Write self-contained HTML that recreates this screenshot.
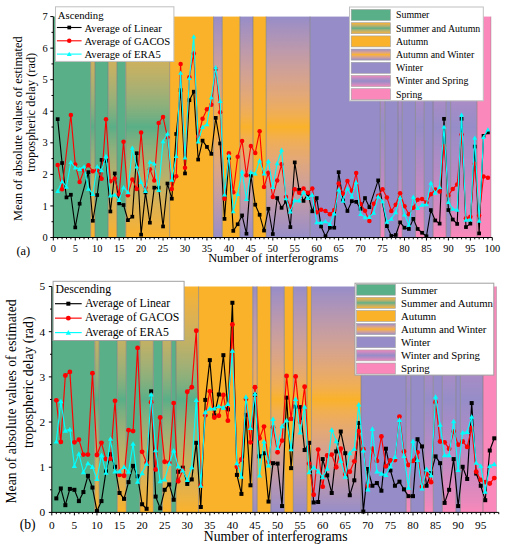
<!DOCTYPE html>
<html><head><meta charset="utf-8"><style>
html,body{margin:0;padding:0;background:#fff;}
svg{display:block;}
</style></head><body>
<svg width="507" height="550" viewBox="0 0 507 550">
<rect width="507" height="550" fill="#fff"/>
<defs><linearGradient id="tGA" gradientUnits="userSpaceOnUse" x1="0" y1="16.58" x2="0" y2="237.5"><stop offset="0.000" stop-color="#fab22a"/><stop offset="0.050" stop-color="#f0b23c"/><stop offset="0.100" stop-color="#e5b149"/><stop offset="0.150" stop-color="#dab154"/><stop offset="0.200" stop-color="#cdb15e"/><stop offset="0.250" stop-color="#c0b166"/><stop offset="0.300" stop-color="#b1b06e"/><stop offset="0.350" stop-color="#a1b075"/><stop offset="0.400" stop-color="#8eb07b"/><stop offset="0.450" stop-color="#77af81"/><stop offset="0.500" stop-color="#59af87"/><stop offset="0.550" stop-color="#77af81"/><stop offset="0.600" stop-color="#8eb07b"/><stop offset="0.650" stop-color="#a1b075"/><stop offset="0.700" stop-color="#b1b06e"/><stop offset="0.750" stop-color="#c0b166"/><stop offset="0.800" stop-color="#cdb15e"/><stop offset="0.850" stop-color="#dab154"/><stop offset="0.900" stop-color="#e5b149"/><stop offset="0.950" stop-color="#f0b23c"/><stop offset="1.000" stop-color="#fab22a"/></linearGradient><linearGradient id="LGA" x1="0" y1="0" x2="0" y2="1"><stop offset="0.000" stop-color="#fab22a"/><stop offset="0.050" stop-color="#f0b23c"/><stop offset="0.100" stop-color="#e5b149"/><stop offset="0.150" stop-color="#dab154"/><stop offset="0.200" stop-color="#cdb15e"/><stop offset="0.250" stop-color="#c0b166"/><stop offset="0.300" stop-color="#b1b06e"/><stop offset="0.350" stop-color="#a1b075"/><stop offset="0.400" stop-color="#8eb07b"/><stop offset="0.450" stop-color="#77af81"/><stop offset="0.500" stop-color="#59af87"/><stop offset="0.550" stop-color="#77af81"/><stop offset="0.600" stop-color="#8eb07b"/><stop offset="0.650" stop-color="#a1b075"/><stop offset="0.700" stop-color="#b1b06e"/><stop offset="0.750" stop-color="#c0b166"/><stop offset="0.800" stop-color="#cdb15e"/><stop offset="0.850" stop-color="#dab154"/><stop offset="0.900" stop-color="#e5b149"/><stop offset="0.950" stop-color="#f0b23c"/><stop offset="1.000" stop-color="#fab22a"/></linearGradient><linearGradient id="tAW" gradientUnits="userSpaceOnUse" x1="0" y1="16.58" x2="0" y2="237.5"><stop offset="0.000" stop-color="#968dc8"/><stop offset="0.050" stop-color="#a491bf"/><stop offset="0.100" stop-color="#b095b6"/><stop offset="0.150" stop-color="#bc99ac"/><stop offset="0.200" stop-color="#c69da1"/><stop offset="0.250" stop-color="#d0a195"/><stop offset="0.300" stop-color="#d9a488"/><stop offset="0.350" stop-color="#e2a878"/><stop offset="0.400" stop-color="#eaab66"/><stop offset="0.450" stop-color="#f2af4f"/><stop offset="0.500" stop-color="#fab22a"/><stop offset="0.550" stop-color="#f2af4f"/><stop offset="0.600" stop-color="#eaab66"/><stop offset="0.650" stop-color="#e2a878"/><stop offset="0.700" stop-color="#d9a488"/><stop offset="0.750" stop-color="#d0a195"/><stop offset="0.800" stop-color="#c69da1"/><stop offset="0.850" stop-color="#bc99ac"/><stop offset="0.900" stop-color="#b095b6"/><stop offset="0.950" stop-color="#a491bf"/><stop offset="1.000" stop-color="#968dc8"/></linearGradient><linearGradient id="LAW" x1="0" y1="0" x2="0" y2="1"><stop offset="0.000" stop-color="#968dc8"/><stop offset="0.050" stop-color="#a491bf"/><stop offset="0.100" stop-color="#b095b6"/><stop offset="0.150" stop-color="#bc99ac"/><stop offset="0.200" stop-color="#c69da1"/><stop offset="0.250" stop-color="#d0a195"/><stop offset="0.300" stop-color="#d9a488"/><stop offset="0.350" stop-color="#e2a878"/><stop offset="0.400" stop-color="#eaab66"/><stop offset="0.450" stop-color="#f2af4f"/><stop offset="0.500" stop-color="#fab22a"/><stop offset="0.550" stop-color="#f2af4f"/><stop offset="0.600" stop-color="#eaab66"/><stop offset="0.650" stop-color="#e2a878"/><stop offset="0.700" stop-color="#d9a488"/><stop offset="0.750" stop-color="#d0a195"/><stop offset="0.800" stop-color="#c69da1"/><stop offset="0.850" stop-color="#bc99ac"/><stop offset="0.900" stop-color="#b095b6"/><stop offset="0.950" stop-color="#a491bf"/><stop offset="1.000" stop-color="#968dc8"/></linearGradient><linearGradient id="tWS" gradientUnits="userSpaceOnUse" x1="0" y1="16.58" x2="0" y2="237.5"><stop offset="0.000" stop-color="#fb88ba"/><stop offset="0.050" stop-color="#e989bc"/><stop offset="0.100" stop-color="#dd89be"/><stop offset="0.150" stop-color="#d28ac0"/><stop offset="0.200" stop-color="#c88bc1"/><stop offset="0.250" stop-color="#bf8bc2"/><stop offset="0.300" stop-color="#b68bc4"/><stop offset="0.350" stop-color="#ae8cc5"/><stop offset="0.400" stop-color="#a68cc6"/><stop offset="0.450" stop-color="#9e8dc7"/><stop offset="0.500" stop-color="#968dc8"/><stop offset="0.550" stop-color="#9e8dc7"/><stop offset="0.600" stop-color="#a68cc6"/><stop offset="0.650" stop-color="#ae8cc5"/><stop offset="0.700" stop-color="#b68bc4"/><stop offset="0.750" stop-color="#bf8bc2"/><stop offset="0.800" stop-color="#c88bc1"/><stop offset="0.850" stop-color="#d28ac0"/><stop offset="0.900" stop-color="#dd89be"/><stop offset="0.950" stop-color="#e989bc"/><stop offset="1.000" stop-color="#fb88ba"/></linearGradient><linearGradient id="LWS" x1="0" y1="0" x2="0" y2="1"><stop offset="0.000" stop-color="#fb88ba"/><stop offset="0.050" stop-color="#e989bc"/><stop offset="0.100" stop-color="#dd89be"/><stop offset="0.150" stop-color="#d28ac0"/><stop offset="0.200" stop-color="#c88bc1"/><stop offset="0.250" stop-color="#bf8bc2"/><stop offset="0.300" stop-color="#b68bc4"/><stop offset="0.350" stop-color="#ae8cc5"/><stop offset="0.400" stop-color="#a68cc6"/><stop offset="0.450" stop-color="#9e8dc7"/><stop offset="0.500" stop-color="#968dc8"/><stop offset="0.550" stop-color="#9e8dc7"/><stop offset="0.600" stop-color="#a68cc6"/><stop offset="0.650" stop-color="#ae8cc5"/><stop offset="0.700" stop-color="#b68bc4"/><stop offset="0.750" stop-color="#bf8bc2"/><stop offset="0.800" stop-color="#c88bc1"/><stop offset="0.850" stop-color="#d28ac0"/><stop offset="0.900" stop-color="#dd89be"/><stop offset="0.950" stop-color="#e989bc"/><stop offset="1.000" stop-color="#fb88ba"/></linearGradient></defs><rect x="53.3" y="16.58" width="37.31" height="220.92" fill="#59AF87"/><rect x="90.61" y="16.58" width="4.39" height="220.92" fill="url(#tGA)"/><rect x="95" y="16.58" width="13.17" height="220.92" fill="#59AF87"/><rect x="108.17" y="16.58" width="8.78" height="220.92" fill="url(#tGA)"/><rect x="116.95" y="16.58" width="8.78" height="220.92" fill="#59AF87"/><rect x="125.73" y="16.58" width="43.9" height="220.92" fill="url(#tGA)"/><rect x="169.63" y="16.58" width="43.9" height="220.92" fill="#FAB22A"/><rect x="213.53" y="16.58" width="8.78" height="220.92" fill="url(#tAW)"/><rect x="222.31" y="16.58" width="17.56" height="220.92" fill="#FAB22A"/><rect x="239.88" y="16.58" width="13.17" height="220.92" fill="url(#tAW)"/><rect x="253.04" y="16.58" width="13.17" height="220.92" fill="#FAB22A"/><rect x="266.21" y="16.58" width="43.9" height="220.92" fill="url(#tAW)"/><rect x="310.12" y="16.58" width="70.24" height="220.92" fill="#968DC8"/><rect x="380.35" y="16.58" width="4.39" height="220.92" fill="url(#tWS)"/><rect x="384.75" y="16.58" width="13.17" height="220.92" fill="#968DC8"/><rect x="397.91" y="16.58" width="4.39" height="220.92" fill="url(#tWS)"/><rect x="402.31" y="16.58" width="13.17" height="220.92" fill="#968DC8"/><rect x="415.47" y="16.58" width="8.78" height="220.92" fill="url(#tWS)"/><rect x="424.25" y="16.58" width="8.78" height="220.92" fill="#968DC8"/><rect x="433.03" y="16.58" width="13.17" height="220.92" fill="url(#tWS)"/><rect x="446.2" y="16.58" width="4.39" height="220.92" fill="#968DC8"/><rect x="450.59" y="16.58" width="26.34" height="220.92" fill="url(#tWS)"/><rect x="476.94" y="16.58" width="14.05" height="220.92" fill="#FB88BA"/><line x1="90.61" y1="16.58" x2="90.61" y2="237.5" stroke="#7f7f7f" stroke-opacity="0.55" stroke-width="0.7"/><line x1="90.61" y1="16.58" x2="90.61" y2="237.5" stroke="#7f7f7f" stroke-opacity="0.55" stroke-width="0.7"/><line x1="95" y1="16.58" x2="95" y2="237.5" stroke="#7f7f7f" stroke-opacity="0.55" stroke-width="0.7"/><line x1="95" y1="16.58" x2="95" y2="237.5" stroke="#7f7f7f" stroke-opacity="0.55" stroke-width="0.7"/><line x1="108.17" y1="16.58" x2="108.17" y2="237.5" stroke="#7f7f7f" stroke-opacity="0.55" stroke-width="0.7"/><line x1="108.17" y1="16.58" x2="108.17" y2="237.5" stroke="#7f7f7f" stroke-opacity="0.55" stroke-width="0.7"/><line x1="116.95" y1="16.58" x2="116.95" y2="237.5" stroke="#7f7f7f" stroke-opacity="0.55" stroke-width="0.7"/><line x1="116.95" y1="16.58" x2="116.95" y2="237.5" stroke="#7f7f7f" stroke-opacity="0.55" stroke-width="0.7"/><line x1="125.73" y1="16.58" x2="125.73" y2="237.5" stroke="#7f7f7f" stroke-opacity="0.55" stroke-width="0.7"/><line x1="125.73" y1="16.58" x2="125.73" y2="237.5" stroke="#7f7f7f" stroke-opacity="0.55" stroke-width="0.7"/><line x1="169.63" y1="16.58" x2="169.63" y2="237.5" stroke="#7f7f7f" stroke-opacity="0.55" stroke-width="0.7"/><line x1="169.63" y1="16.58" x2="169.63" y2="237.5" stroke="#7f7f7f" stroke-opacity="0.55" stroke-width="0.7"/><line x1="213.53" y1="16.58" x2="213.53" y2="237.5" stroke="#7f7f7f" stroke-opacity="0.55" stroke-width="0.7"/><line x1="213.53" y1="16.58" x2="213.53" y2="237.5" stroke="#7f7f7f" stroke-opacity="0.55" stroke-width="0.7"/><line x1="222.31" y1="16.58" x2="222.31" y2="237.5" stroke="#7f7f7f" stroke-opacity="0.55" stroke-width="0.7"/><line x1="222.31" y1="16.58" x2="222.31" y2="237.5" stroke="#7f7f7f" stroke-opacity="0.55" stroke-width="0.7"/><line x1="239.88" y1="16.58" x2="239.88" y2="237.5" stroke="#7f7f7f" stroke-opacity="0.55" stroke-width="0.7"/><line x1="239.88" y1="16.58" x2="239.88" y2="237.5" stroke="#7f7f7f" stroke-opacity="0.55" stroke-width="0.7"/><line x1="253.04" y1="16.58" x2="253.04" y2="237.5" stroke="#7f7f7f" stroke-opacity="0.55" stroke-width="0.7"/><line x1="253.04" y1="16.58" x2="253.04" y2="237.5" stroke="#7f7f7f" stroke-opacity="0.55" stroke-width="0.7"/><line x1="266.21" y1="16.58" x2="266.21" y2="237.5" stroke="#7f7f7f" stroke-opacity="0.55" stroke-width="0.7"/><line x1="266.21" y1="16.58" x2="266.21" y2="237.5" stroke="#7f7f7f" stroke-opacity="0.55" stroke-width="0.7"/><line x1="310.12" y1="16.58" x2="310.12" y2="237.5" stroke="#7f7f7f" stroke-opacity="0.55" stroke-width="0.7"/><line x1="310.12" y1="16.58" x2="310.12" y2="237.5" stroke="#7f7f7f" stroke-opacity="0.55" stroke-width="0.7"/><line x1="380.35" y1="16.58" x2="380.35" y2="237.5" stroke="#7f7f7f" stroke-opacity="0.55" stroke-width="0.7"/><line x1="380.35" y1="16.58" x2="380.35" y2="237.5" stroke="#7f7f7f" stroke-opacity="0.55" stroke-width="0.7"/><line x1="384.75" y1="16.58" x2="384.75" y2="237.5" stroke="#7f7f7f" stroke-opacity="0.55" stroke-width="0.7"/><line x1="384.75" y1="16.58" x2="384.75" y2="237.5" stroke="#7f7f7f" stroke-opacity="0.55" stroke-width="0.7"/><line x1="397.91" y1="16.58" x2="397.91" y2="237.5" stroke="#7f7f7f" stroke-opacity="0.55" stroke-width="0.7"/><line x1="397.91" y1="16.58" x2="397.91" y2="237.5" stroke="#7f7f7f" stroke-opacity="0.55" stroke-width="0.7"/><line x1="402.31" y1="16.58" x2="402.31" y2="237.5" stroke="#7f7f7f" stroke-opacity="0.55" stroke-width="0.7"/><line x1="402.31" y1="16.58" x2="402.31" y2="237.5" stroke="#7f7f7f" stroke-opacity="0.55" stroke-width="0.7"/><line x1="415.47" y1="16.58" x2="415.47" y2="237.5" stroke="#7f7f7f" stroke-opacity="0.55" stroke-width="0.7"/><line x1="415.47" y1="16.58" x2="415.47" y2="237.5" stroke="#7f7f7f" stroke-opacity="0.55" stroke-width="0.7"/><line x1="424.25" y1="16.58" x2="424.25" y2="237.5" stroke="#7f7f7f" stroke-opacity="0.55" stroke-width="0.7"/><line x1="424.25" y1="16.58" x2="424.25" y2="237.5" stroke="#7f7f7f" stroke-opacity="0.55" stroke-width="0.7"/><line x1="433.03" y1="16.58" x2="433.03" y2="237.5" stroke="#7f7f7f" stroke-opacity="0.55" stroke-width="0.7"/><line x1="433.03" y1="16.58" x2="433.03" y2="237.5" stroke="#7f7f7f" stroke-opacity="0.55" stroke-width="0.7"/><line x1="446.2" y1="16.58" x2="446.2" y2="237.5" stroke="#7f7f7f" stroke-opacity="0.55" stroke-width="0.7"/><line x1="446.2" y1="16.58" x2="446.2" y2="237.5" stroke="#7f7f7f" stroke-opacity="0.55" stroke-width="0.7"/><line x1="450.59" y1="16.58" x2="450.59" y2="237.5" stroke="#7f7f7f" stroke-opacity="0.55" stroke-width="0.7"/><line x1="450.59" y1="16.58" x2="450.59" y2="237.5" stroke="#7f7f7f" stroke-opacity="0.55" stroke-width="0.7"/><line x1="476.94" y1="16.58" x2="476.94" y2="237.5" stroke="#7f7f7f" stroke-opacity="0.55" stroke-width="0.7"/><line x1="476.94" y1="16.58" x2="476.94" y2="237.5" stroke="#7f7f7f" stroke-opacity="0.55" stroke-width="0.7"/><line x1="490.98" y1="16.58" x2="490.98" y2="237.5" stroke="#7f7f7f" stroke-opacity="0.55" stroke-width="0.7"/><polyline points="57.69,119.15 62.08,163.02 66.47,197.42 70.86,194.74 75.25,227.4 79.64,203.73 88.42,172.17 92.81,220.77 97.2,195.05 101.59,159.86 105.98,160.81 110.37,211.46 114.76,173.43 119.15,203.42 123.54,204.99 127.93,220.14 132.32,216.67 136.71,153.23 141.1,234.66 145.49,192.37 149.88,222.67 154.27,187.64 158.66,187.64 163.05,226.45 167.44,183.53 171.83,198.68 176.22,133.98 180.61,90.11 185,173.43 189.39,100.21 193.78,91.69 198.17,159.55 202.56,140.61 206.95,146.92 211.34,153.87 215.73,117.89 220.12,143.45 224.51,218.88 228.9,157.97 233.29,230.87 237.68,224.24 242.07,215.41 246.46,233.71 250.85,175.64 255.24,204.68 259.63,214.78 264.02,230.56 268.41,208.78 272.8,234.03 277.19,198.05 281.58,207.83 285.97,201.52 290.36,227.09 294.75,162.39 299.14,189.84 303.53,200.89 307.92,193.63 312.31,211.31 316.7,198.05 321.09,226.45 325.48,236.24 329.87,227.72 334.26,227.72 338.65,172.17 343.04,200.26 347.43,210.99 351.82,201.21 356.21,201.84 360.6,208.78 364.99,198.05 369.38,207.2 378.16,180.38 386.94,226.14 391.33,235.92 395.72,234.98 400.11,222.35 404.5,227.72 408.89,228.98 413.28,218.88 417.67,228.98 422.06,232.77 426.45,236.24 430.84,210.04 435.23,220.46 439.62,223.61 444.01,118.83 448.4,210.04 452.79,219.51 457.18,223.93 461.57,118.83 465.96,227.09 470.35,223.61 474.74,146.61 479.13,233.4 483.52,135.88 487.91,132.41" fill="none" stroke="#000000" stroke-width="1.1" stroke-linejoin="round"/><g fill="#000000"><rect x="55.84" y="117.3" width="3.7" height="3.7"/><rect x="60.23" y="161.17" width="3.7" height="3.7"/><rect x="64.62" y="195.57" width="3.7" height="3.7"/><rect x="69.01" y="192.89" width="3.7" height="3.7"/><rect x="73.4" y="225.55" width="3.7" height="3.7"/><rect x="77.79" y="201.88" width="3.7" height="3.7"/><rect x="86.57" y="170.32" width="3.7" height="3.7"/><rect x="90.96" y="218.92" width="3.7" height="3.7"/><rect x="95.35" y="193.2" width="3.7" height="3.7"/><rect x="99.74" y="158.01" width="3.7" height="3.7"/><rect x="104.13" y="158.96" width="3.7" height="3.7"/><rect x="108.52" y="209.61" width="3.7" height="3.7"/><rect x="112.91" y="171.58" width="3.7" height="3.7"/><rect x="117.3" y="201.57" width="3.7" height="3.7"/><rect x="121.69" y="203.14" width="3.7" height="3.7"/><rect x="126.08" y="218.29" width="3.7" height="3.7"/><rect x="130.47" y="214.82" width="3.7" height="3.7"/><rect x="134.86" y="151.38" width="3.7" height="3.7"/><rect x="139.25" y="232.81" width="3.7" height="3.7"/><rect x="143.64" y="190.52" width="3.7" height="3.7"/><rect x="148.03" y="220.82" width="3.7" height="3.7"/><rect x="152.42" y="185.79" width="3.7" height="3.7"/><rect x="156.81" y="185.79" width="3.7" height="3.7"/><rect x="161.2" y="224.6" width="3.7" height="3.7"/><rect x="165.59" y="181.68" width="3.7" height="3.7"/><rect x="169.98" y="196.83" width="3.7" height="3.7"/><rect x="174.37" y="132.13" width="3.7" height="3.7"/><rect x="178.76" y="88.26" width="3.7" height="3.7"/><rect x="183.15" y="171.58" width="3.7" height="3.7"/><rect x="187.54" y="98.36" width="3.7" height="3.7"/><rect x="191.93" y="89.84" width="3.7" height="3.7"/><rect x="196.32" y="157.7" width="3.7" height="3.7"/><rect x="200.71" y="138.76" width="3.7" height="3.7"/><rect x="205.1" y="145.07" width="3.7" height="3.7"/><rect x="209.49" y="152.02" width="3.7" height="3.7"/><rect x="213.88" y="116.04" width="3.7" height="3.7"/><rect x="218.27" y="141.6" width="3.7" height="3.7"/><rect x="222.66" y="217.03" width="3.7" height="3.7"/><rect x="227.05" y="156.12" width="3.7" height="3.7"/><rect x="231.44" y="229.02" width="3.7" height="3.7"/><rect x="235.83" y="222.39" width="3.7" height="3.7"/><rect x="240.22" y="213.56" width="3.7" height="3.7"/><rect x="244.61" y="231.86" width="3.7" height="3.7"/><rect x="249" y="173.79" width="3.7" height="3.7"/><rect x="253.39" y="202.83" width="3.7" height="3.7"/><rect x="257.78" y="212.93" width="3.7" height="3.7"/><rect x="262.17" y="228.71" width="3.7" height="3.7"/><rect x="266.56" y="206.93" width="3.7" height="3.7"/><rect x="270.95" y="232.18" width="3.7" height="3.7"/><rect x="275.34" y="196.2" width="3.7" height="3.7"/><rect x="279.73" y="205.98" width="3.7" height="3.7"/><rect x="284.12" y="199.67" width="3.7" height="3.7"/><rect x="288.51" y="225.24" width="3.7" height="3.7"/><rect x="292.9" y="160.54" width="3.7" height="3.7"/><rect x="297.29" y="187.99" width="3.7" height="3.7"/><rect x="301.68" y="199.04" width="3.7" height="3.7"/><rect x="306.07" y="191.78" width="3.7" height="3.7"/><rect x="310.46" y="209.46" width="3.7" height="3.7"/><rect x="314.85" y="196.2" width="3.7" height="3.7"/><rect x="319.24" y="224.6" width="3.7" height="3.7"/><rect x="323.63" y="234.39" width="3.7" height="3.7"/><rect x="328.02" y="225.87" width="3.7" height="3.7"/><rect x="332.41" y="225.87" width="3.7" height="3.7"/><rect x="336.8" y="170.32" width="3.7" height="3.7"/><rect x="341.19" y="198.41" width="3.7" height="3.7"/><rect x="345.58" y="209.14" width="3.7" height="3.7"/><rect x="349.97" y="199.36" width="3.7" height="3.7"/><rect x="354.36" y="199.99" width="3.7" height="3.7"/><rect x="358.75" y="206.93" width="3.7" height="3.7"/><rect x="363.14" y="196.2" width="3.7" height="3.7"/><rect x="367.53" y="205.35" width="3.7" height="3.7"/><rect x="376.31" y="178.53" width="3.7" height="3.7"/><rect x="385.09" y="224.29" width="3.7" height="3.7"/><rect x="389.48" y="234.07" width="3.7" height="3.7"/><rect x="393.87" y="233.13" width="3.7" height="3.7"/><rect x="398.26" y="220.5" width="3.7" height="3.7"/><rect x="402.65" y="225.87" width="3.7" height="3.7"/><rect x="407.04" y="227.13" width="3.7" height="3.7"/><rect x="411.43" y="217.03" width="3.7" height="3.7"/><rect x="415.82" y="227.13" width="3.7" height="3.7"/><rect x="420.21" y="230.92" width="3.7" height="3.7"/><rect x="424.6" y="234.39" width="3.7" height="3.7"/><rect x="428.99" y="208.19" width="3.7" height="3.7"/><rect x="433.38" y="218.61" width="3.7" height="3.7"/><rect x="437.77" y="221.76" width="3.7" height="3.7"/><rect x="442.16" y="116.98" width="3.7" height="3.7"/><rect x="446.55" y="208.19" width="3.7" height="3.7"/><rect x="450.94" y="217.66" width="3.7" height="3.7"/><rect x="455.33" y="222.08" width="3.7" height="3.7"/><rect x="459.72" y="116.98" width="3.7" height="3.7"/><rect x="464.11" y="225.24" width="3.7" height="3.7"/><rect x="468.5" y="221.76" width="3.7" height="3.7"/><rect x="472.89" y="144.76" width="3.7" height="3.7"/><rect x="477.28" y="231.55" width="3.7" height="3.7"/><rect x="481.67" y="134.03" width="3.7" height="3.7"/><rect x="486.06" y="130.56" width="3.7" height="3.7"/></g><polyline points="57.69,164.91 62.08,189.21 70.86,115.05 75.25,164.6 79.64,181.95 84.03,170.28 88.42,165.23 92.81,171.22 97.2,169.65 101.59,178.8 105.98,119.15 110.37,181.32 114.76,178.48 119.15,194.26 123.54,141.87 127.93,195.21 132.32,179.43 136.71,188.9 141.1,132.41 145.49,187.64 149.88,169.33 154.27,180.38 158.66,122.94 163.05,116.94 167.44,137.14 171.83,188.9 176.22,176.27 180.61,63.92 185,167.75 189.39,77.18 193.78,53.51 198.17,136.51 202.56,118.83 206.95,109.37 211.34,104.63 215.73,68.97 220.12,112.21 224.51,198.68 228.9,153.23 233.29,192.37 237.68,156.71 242.07,140.93 246.46,175.33 250.85,145.98 255.24,152.92 259.63,131.14 264.02,187 268.41,172.8 272.8,197.1 277.19,180.38 281.58,164.28 285.97,197.1 290.36,206.89 294.75,189.21 299.14,192.68 303.53,188.58 307.92,192.68 312.31,188.58 316.7,212.25 321.09,209.73 325.48,210.99 329.87,214.15 334.26,210.04 338.65,183.53 343.04,193.63 347.43,181.01 351.82,190.79 356.21,173.12 360.6,204.05 364.99,210.67 369.38,221.09 373.77,203.73 378.16,195.84 382.55,189.21 386.94,197.42 391.33,210.99 395.72,204.68 400.11,193.32 404.5,206.26 408.89,214.15 413.28,207.83 417.67,199.63 422.06,199 426.45,202.47 430.84,194.26 435.23,189.53 439.62,191.42 444.01,145.98 448.4,195.53 452.79,188.9 457.18,184.48 461.57,134.61 465.96,218.25 470.35,216.67 474.74,163.65 479.13,215.41 483.52,176.59 487.91,177.85" fill="none" stroke="#FF0000" stroke-width="1.1" stroke-linejoin="round"/><g fill="#FF0000"><circle cx="57.69" cy="164.91" r="2.25"/><circle cx="62.08" cy="189.21" r="2.25"/><circle cx="70.86" cy="115.05" r="2.25"/><circle cx="75.25" cy="164.6" r="2.25"/><circle cx="79.64" cy="181.95" r="2.25"/><circle cx="84.03" cy="170.28" r="2.25"/><circle cx="88.42" cy="165.23" r="2.25"/><circle cx="92.81" cy="171.22" r="2.25"/><circle cx="97.2" cy="169.65" r="2.25"/><circle cx="101.59" cy="178.8" r="2.25"/><circle cx="105.98" cy="119.15" r="2.25"/><circle cx="110.37" cy="181.32" r="2.25"/><circle cx="114.76" cy="178.48" r="2.25"/><circle cx="119.15" cy="194.26" r="2.25"/><circle cx="123.54" cy="141.87" r="2.25"/><circle cx="127.93" cy="195.21" r="2.25"/><circle cx="132.32" cy="179.43" r="2.25"/><circle cx="136.71" cy="188.9" r="2.25"/><circle cx="141.1" cy="132.41" r="2.25"/><circle cx="145.49" cy="187.64" r="2.25"/><circle cx="149.88" cy="169.33" r="2.25"/><circle cx="154.27" cy="180.38" r="2.25"/><circle cx="158.66" cy="122.94" r="2.25"/><circle cx="163.05" cy="116.94" r="2.25"/><circle cx="167.44" cy="137.14" r="2.25"/><circle cx="171.83" cy="188.9" r="2.25"/><circle cx="176.22" cy="176.27" r="2.25"/><circle cx="180.61" cy="63.92" r="2.25"/><circle cx="185" cy="167.75" r="2.25"/><circle cx="189.39" cy="77.18" r="2.25"/><circle cx="193.78" cy="53.51" r="2.25"/><circle cx="198.17" cy="136.51" r="2.25"/><circle cx="202.56" cy="118.83" r="2.25"/><circle cx="206.95" cy="109.37" r="2.25"/><circle cx="211.34" cy="104.63" r="2.25"/><circle cx="215.73" cy="68.97" r="2.25"/><circle cx="220.12" cy="112.21" r="2.25"/><circle cx="224.51" cy="198.68" r="2.25"/><circle cx="228.9" cy="153.23" r="2.25"/><circle cx="233.29" cy="192.37" r="2.25"/><circle cx="237.68" cy="156.71" r="2.25"/><circle cx="242.07" cy="140.93" r="2.25"/><circle cx="246.46" cy="175.33" r="2.25"/><circle cx="250.85" cy="145.98" r="2.25"/><circle cx="255.24" cy="152.92" r="2.25"/><circle cx="259.63" cy="131.14" r="2.25"/><circle cx="264.02" cy="187" r="2.25"/><circle cx="268.41" cy="172.8" r="2.25"/><circle cx="272.8" cy="197.1" r="2.25"/><circle cx="277.19" cy="180.38" r="2.25"/><circle cx="281.58" cy="164.28" r="2.25"/><circle cx="285.97" cy="197.1" r="2.25"/><circle cx="290.36" cy="206.89" r="2.25"/><circle cx="294.75" cy="189.21" r="2.25"/><circle cx="299.14" cy="192.68" r="2.25"/><circle cx="303.53" cy="188.58" r="2.25"/><circle cx="307.92" cy="192.68" r="2.25"/><circle cx="312.31" cy="188.58" r="2.25"/><circle cx="316.7" cy="212.25" r="2.25"/><circle cx="321.09" cy="209.73" r="2.25"/><circle cx="325.48" cy="210.99" r="2.25"/><circle cx="329.87" cy="214.15" r="2.25"/><circle cx="334.26" cy="210.04" r="2.25"/><circle cx="338.65" cy="183.53" r="2.25"/><circle cx="343.04" cy="193.63" r="2.25"/><circle cx="347.43" cy="181.01" r="2.25"/><circle cx="351.82" cy="190.79" r="2.25"/><circle cx="356.21" cy="173.12" r="2.25"/><circle cx="360.6" cy="204.05" r="2.25"/><circle cx="364.99" cy="210.67" r="2.25"/><circle cx="369.38" cy="221.09" r="2.25"/><circle cx="373.77" cy="203.73" r="2.25"/><circle cx="378.16" cy="195.84" r="2.25"/><circle cx="382.55" cy="189.21" r="2.25"/><circle cx="386.94" cy="197.42" r="2.25"/><circle cx="391.33" cy="210.99" r="2.25"/><circle cx="395.72" cy="204.68" r="2.25"/><circle cx="400.11" cy="193.32" r="2.25"/><circle cx="404.5" cy="206.26" r="2.25"/><circle cx="408.89" cy="214.15" r="2.25"/><circle cx="413.28" cy="207.83" r="2.25"/><circle cx="417.67" cy="199.63" r="2.25"/><circle cx="422.06" cy="199" r="2.25"/><circle cx="426.45" cy="202.47" r="2.25"/><circle cx="430.84" cy="194.26" r="2.25"/><circle cx="435.23" cy="189.53" r="2.25"/><circle cx="439.62" cy="191.42" r="2.25"/><circle cx="444.01" cy="145.98" r="2.25"/><circle cx="448.4" cy="195.53" r="2.25"/><circle cx="452.79" cy="188.9" r="2.25"/><circle cx="457.18" cy="184.48" r="2.25"/><circle cx="461.57" cy="134.61" r="2.25"/><circle cx="465.96" cy="218.25" r="2.25"/><circle cx="470.35" cy="216.67" r="2.25"/><circle cx="474.74" cy="163.65" r="2.25"/><circle cx="479.13" cy="215.41" r="2.25"/><circle cx="483.52" cy="176.59" r="2.25"/><circle cx="487.91" cy="177.85" r="2.25"/></g><polyline points="57.69,191.11 62.08,181.32 66.47,186.69 70.86,162.07 75.25,167.44 79.64,169.01 84.03,166.49 88.42,188.9 92.81,193.95 97.2,166.49 101.59,170.28 105.98,156.08 110.37,195.53 114.76,194.89 119.15,199.94 123.54,187.32 127.93,192.37 132.32,147.87 136.71,166.49 141.1,181.95 145.49,191.11 149.88,161.76 154.27,163.65 158.66,190.16 163.05,141.24 167.44,133.67 171.83,179.75 176.22,156.08 180.61,72.76 185,157.65 189.39,78.12 193.78,36.46 198.17,141.56 202.56,127.04 206.95,124.2 211.34,97.37 215.73,67.39 220.12,101.16 224.51,194.58 228.9,155.44 233.29,211.31 237.68,193.95 242.07,171.54 246.46,199 250.85,172.17 255.24,173.43 259.63,160.49 264.02,173.43 268.41,161.12 272.8,187 277.19,163.33 281.58,149.76 285.97,198.37 290.36,211.62 294.75,200.26 299.14,200.57 303.53,192.37 307.92,198.05 312.31,194.89 316.7,222.35 321.09,222.67 325.48,221.4 329.87,223.93 334.26,213.51 338.65,189.53 343.04,200.89 347.43,188.58 351.82,196.47 356.21,182.27 360.6,214.15 364.99,217.3 369.38,216.99 373.77,212.88 378.16,196.47 382.55,201.21 386.94,221.72 391.33,218.88 395.72,212.25 400.11,197.42 404.5,214.46 408.89,224.88 413.28,196.79 417.67,208.15 422.06,204.68 426.45,204.36 430.84,182.9 435.23,192.68 439.62,187 444.01,126.72 448.4,202.15 452.79,208.78 457.18,209.73 461.57,114.73 465.96,219.83 470.35,219.51 474.74,137.77 479.13,220.77 483.52,137.14 487.91,129.56" fill="none" stroke="#00FFFF" stroke-width="1.1" stroke-linejoin="round"/><g fill="#00FFFF"><path d="M57.69 188.81L60.14 193.06L55.24 193.06Z"/><path d="M62.08 179.02L64.53 183.28L59.63 183.28Z"/><path d="M66.47 184.39L68.92 188.64L64.02 188.64Z"/><path d="M70.86 159.77L73.31 164.03L68.41 164.03Z"/><path d="M75.25 165.14L77.7 169.39L72.8 169.39Z"/><path d="M79.64 166.71L82.09 170.97L77.19 170.97Z"/><path d="M84.03 164.19L86.48 168.45L81.58 168.45Z"/><path d="M88.42 186.6L90.87 190.85L85.97 190.85Z"/><path d="M92.81 191.65L95.26 195.9L90.36 195.9Z"/><path d="M97.2 164.19L99.65 168.45L94.75 168.45Z"/><path d="M101.59 167.98L104.04 172.23L99.14 172.23Z"/><path d="M105.98 153.78L108.43 158.03L103.53 158.03Z"/><path d="M110.37 193.23L112.82 197.48L107.92 197.48Z"/><path d="M114.76 192.59L117.21 196.85L112.31 196.85Z"/><path d="M119.15 197.64L121.6 201.9L116.7 201.9Z"/><path d="M123.54 185.02L125.99 189.27L121.09 189.27Z"/><path d="M127.93 190.07L130.38 194.32L125.48 194.32Z"/><path d="M132.32 145.57L134.77 149.82L129.87 149.82Z"/><path d="M136.71 164.19L139.16 168.45L134.26 168.45Z"/><path d="M141.1 179.65L143.55 183.91L138.65 183.91Z"/><path d="M145.49 188.81L147.94 193.06L143.04 193.06Z"/><path d="M149.88 159.46L152.33 163.71L147.43 163.71Z"/><path d="M154.27 161.35L156.72 165.6L151.82 165.6Z"/><path d="M158.66 187.86L161.11 192.12L156.21 192.12Z"/><path d="M163.05 138.94L165.5 143.2L160.6 143.2Z"/><path d="M167.44 131.37L169.89 135.62L164.99 135.62Z"/><path d="M171.83 177.45L174.28 181.7L169.38 181.7Z"/><path d="M176.22 153.78L178.67 158.03L173.77 158.03Z"/><path d="M180.61 70.46L183.06 74.71L178.16 74.71Z"/><path d="M185 155.35L187.45 159.61L182.55 159.61Z"/><path d="M189.39 75.82L191.84 80.08L186.94 80.08Z"/><path d="M193.78 34.16L196.23 38.42L191.33 38.42Z"/><path d="M198.17 139.26L200.62 143.51L195.72 143.51Z"/><path d="M202.56 124.74L205.01 129L200.11 129Z"/><path d="M206.95 121.9L209.4 126.15L204.5 126.15Z"/><path d="M211.34 95.07L213.79 99.33L208.89 99.33Z"/><path d="M215.73 65.09L218.18 69.35L213.28 69.35Z"/><path d="M220.12 98.86L222.57 103.12L217.67 103.12Z"/><path d="M224.51 192.28L226.96 196.53L222.06 196.53Z"/><path d="M228.9 153.14L231.35 157.4L226.45 157.4Z"/><path d="M233.29 209.01L235.74 213.26L230.84 213.26Z"/><path d="M237.68 191.65L240.13 195.9L235.23 195.9Z"/><path d="M242.07 169.24L244.52 173.49L239.62 173.49Z"/><path d="M246.46 196.7L248.91 200.95L244.01 200.95Z"/><path d="M250.85 169.87L253.3 174.13L248.4 174.13Z"/><path d="M255.24 171.13L257.69 175.39L252.79 175.39Z"/><path d="M259.63 158.19L262.08 162.45L257.18 162.45Z"/><path d="M264.02 171.13L266.47 175.39L261.57 175.39Z"/><path d="M268.41 158.82L270.86 163.08L265.96 163.08Z"/><path d="M272.8 184.7L275.25 188.96L270.35 188.96Z"/><path d="M277.19 161.03L279.64 165.29L274.74 165.29Z"/><path d="M281.58 147.46L284.03 151.72L279.13 151.72Z"/><path d="M285.97 196.07L288.42 200.32L283.52 200.32Z"/><path d="M290.36 209.32L292.81 213.58L287.91 213.58Z"/><path d="M294.75 197.96L297.2 202.21L292.3 202.21Z"/><path d="M299.14 198.27L301.59 202.53L296.69 202.53Z"/><path d="M303.53 190.07L305.98 194.32L301.08 194.32Z"/><path d="M307.92 195.75L310.37 200.01L305.47 200.01Z"/><path d="M312.31 192.59L314.76 196.85L309.86 196.85Z"/><path d="M316.7 220.05L319.15 224.31L314.25 224.31Z"/><path d="M321.09 220.37L323.54 224.62L318.64 224.62Z"/><path d="M325.48 219.1L327.93 223.36L323.03 223.36Z"/><path d="M329.87 221.63L332.32 225.88L327.42 225.88Z"/><path d="M334.26 211.21L336.71 215.47L331.81 215.47Z"/><path d="M338.65 187.23L341.1 191.48L336.2 191.48Z"/><path d="M343.04 198.59L345.49 202.85L340.59 202.85Z"/><path d="M347.43 186.28L349.88 190.54L344.98 190.54Z"/><path d="M351.82 194.17L354.27 198.43L349.37 198.43Z"/><path d="M356.21 179.97L358.66 184.23L353.76 184.23Z"/><path d="M360.6 211.85L363.05 216.1L358.15 216.1Z"/><path d="M364.99 215L367.44 219.26L362.54 219.26Z"/><path d="M369.38 214.69L371.83 218.94L366.93 218.94Z"/><path d="M373.77 210.58L376.22 214.84L371.32 214.84Z"/><path d="M378.16 194.17L380.61 198.43L375.71 198.43Z"/><path d="M382.55 198.91L385 203.16L380.1 203.16Z"/><path d="M386.94 219.42L389.39 223.68L384.49 223.68Z"/><path d="M391.33 216.58L393.78 220.83L388.88 220.83Z"/><path d="M395.72 209.95L398.17 214.21L393.27 214.21Z"/><path d="M400.11 195.12L402.56 199.37L397.66 199.37Z"/><path d="M404.5 212.16L406.95 216.42L402.05 216.42Z"/><path d="M408.89 222.58L411.34 226.83L406.44 226.83Z"/><path d="M413.28 194.49L415.73 198.74L410.83 198.74Z"/><path d="M417.67 205.85L420.12 210.1L415.22 210.1Z"/><path d="M422.06 202.38L424.51 206.63L419.61 206.63Z"/><path d="M426.45 202.06L428.9 206.32L424 206.32Z"/><path d="M430.84 180.6L433.29 184.86L428.39 184.86Z"/><path d="M435.23 190.38L437.68 194.64L432.78 194.64Z"/><path d="M439.62 184.7L442.07 188.96L437.17 188.96Z"/><path d="M444.01 124.42L446.46 128.68L441.56 128.68Z"/><path d="M448.4 199.85L450.85 204.11L445.95 204.11Z"/><path d="M452.79 206.48L455.24 210.74L450.34 210.74Z"/><path d="M457.18 207.43L459.63 211.68L454.73 211.68Z"/><path d="M461.57 112.43L464.02 116.69L459.12 116.69Z"/><path d="M465.96 217.53L468.41 221.78L463.51 221.78Z"/><path d="M470.35 217.21L472.8 221.47L467.9 221.47Z"/><path d="M474.74 135.47L477.19 139.73L472.29 139.73Z"/><path d="M479.13 218.47L481.58 222.73L476.68 222.73Z"/><path d="M483.52 134.84L485.97 139.09L481.07 139.09Z"/><path d="M487.91 127.26L490.36 131.52L485.46 131.52Z"/></g><g stroke="#000" stroke-width="1" fill="none"><line x1="53.3" y1="16.58" x2="53.3" y2="238"/><line x1="52.8" y1="237.5" x2="492.3" y2="237.5"/><line x1="53.3" y1="237.5" x2="53.3" y2="240.5"/><line x1="57.69" y1="237.5" x2="57.69" y2="239.3"/><line x1="62.08" y1="237.5" x2="62.08" y2="239.3"/><line x1="66.47" y1="237.5" x2="66.47" y2="239.3"/><line x1="70.86" y1="237.5" x2="70.86" y2="239.3"/><line x1="75.25" y1="237.5" x2="75.25" y2="240.5"/><line x1="79.64" y1="237.5" x2="79.64" y2="239.3"/><line x1="84.03" y1="237.5" x2="84.03" y2="239.3"/><line x1="88.42" y1="237.5" x2="88.42" y2="239.3"/><line x1="92.81" y1="237.5" x2="92.81" y2="239.3"/><line x1="97.2" y1="237.5" x2="97.2" y2="240.5"/><line x1="101.59" y1="237.5" x2="101.59" y2="239.3"/><line x1="105.98" y1="237.5" x2="105.98" y2="239.3"/><line x1="110.37" y1="237.5" x2="110.37" y2="239.3"/><line x1="114.76" y1="237.5" x2="114.76" y2="239.3"/><line x1="119.15" y1="237.5" x2="119.15" y2="240.5"/><line x1="123.54" y1="237.5" x2="123.54" y2="239.3"/><line x1="127.93" y1="237.5" x2="127.93" y2="239.3"/><line x1="132.32" y1="237.5" x2="132.32" y2="239.3"/><line x1="136.71" y1="237.5" x2="136.71" y2="239.3"/><line x1="141.1" y1="237.5" x2="141.1" y2="240.5"/><line x1="145.49" y1="237.5" x2="145.49" y2="239.3"/><line x1="149.88" y1="237.5" x2="149.88" y2="239.3"/><line x1="154.27" y1="237.5" x2="154.27" y2="239.3"/><line x1="158.66" y1="237.5" x2="158.66" y2="239.3"/><line x1="163.05" y1="237.5" x2="163.05" y2="240.5"/><line x1="167.44" y1="237.5" x2="167.44" y2="239.3"/><line x1="171.83" y1="237.5" x2="171.83" y2="239.3"/><line x1="176.22" y1="237.5" x2="176.22" y2="239.3"/><line x1="180.61" y1="237.5" x2="180.61" y2="239.3"/><line x1="185" y1="237.5" x2="185" y2="240.5"/><line x1="189.39" y1="237.5" x2="189.39" y2="239.3"/><line x1="193.78" y1="237.5" x2="193.78" y2="239.3"/><line x1="198.17" y1="237.5" x2="198.17" y2="239.3"/><line x1="202.56" y1="237.5" x2="202.56" y2="239.3"/><line x1="206.95" y1="237.5" x2="206.95" y2="240.5"/><line x1="211.34" y1="237.5" x2="211.34" y2="239.3"/><line x1="215.73" y1="237.5" x2="215.73" y2="239.3"/><line x1="220.12" y1="237.5" x2="220.12" y2="239.3"/><line x1="224.51" y1="237.5" x2="224.51" y2="239.3"/><line x1="228.9" y1="237.5" x2="228.9" y2="240.5"/><line x1="233.29" y1="237.5" x2="233.29" y2="239.3"/><line x1="237.68" y1="237.5" x2="237.68" y2="239.3"/><line x1="242.07" y1="237.5" x2="242.07" y2="239.3"/><line x1="246.46" y1="237.5" x2="246.46" y2="239.3"/><line x1="250.85" y1="237.5" x2="250.85" y2="240.5"/><line x1="255.24" y1="237.5" x2="255.24" y2="239.3"/><line x1="259.63" y1="237.5" x2="259.63" y2="239.3"/><line x1="264.02" y1="237.5" x2="264.02" y2="239.3"/><line x1="268.41" y1="237.5" x2="268.41" y2="239.3"/><line x1="272.8" y1="237.5" x2="272.8" y2="240.5"/><line x1="277.19" y1="237.5" x2="277.19" y2="239.3"/><line x1="281.58" y1="237.5" x2="281.58" y2="239.3"/><line x1="285.97" y1="237.5" x2="285.97" y2="239.3"/><line x1="290.36" y1="237.5" x2="290.36" y2="239.3"/><line x1="294.75" y1="237.5" x2="294.75" y2="240.5"/><line x1="299.14" y1="237.5" x2="299.14" y2="239.3"/><line x1="303.53" y1="237.5" x2="303.53" y2="239.3"/><line x1="307.92" y1="237.5" x2="307.92" y2="239.3"/><line x1="312.31" y1="237.5" x2="312.31" y2="239.3"/><line x1="316.7" y1="237.5" x2="316.7" y2="240.5"/><line x1="321.09" y1="237.5" x2="321.09" y2="239.3"/><line x1="325.48" y1="237.5" x2="325.48" y2="239.3"/><line x1="329.87" y1="237.5" x2="329.87" y2="239.3"/><line x1="334.26" y1="237.5" x2="334.26" y2="239.3"/><line x1="338.65" y1="237.5" x2="338.65" y2="240.5"/><line x1="343.04" y1="237.5" x2="343.04" y2="239.3"/><line x1="347.43" y1="237.5" x2="347.43" y2="239.3"/><line x1="351.82" y1="237.5" x2="351.82" y2="239.3"/><line x1="356.21" y1="237.5" x2="356.21" y2="239.3"/><line x1="360.6" y1="237.5" x2="360.6" y2="240.5"/><line x1="364.99" y1="237.5" x2="364.99" y2="239.3"/><line x1="369.38" y1="237.5" x2="369.38" y2="239.3"/><line x1="373.77" y1="237.5" x2="373.77" y2="239.3"/><line x1="378.16" y1="237.5" x2="378.16" y2="239.3"/><line x1="382.55" y1="237.5" x2="382.55" y2="240.5"/><line x1="386.94" y1="237.5" x2="386.94" y2="239.3"/><line x1="391.33" y1="237.5" x2="391.33" y2="239.3"/><line x1="395.72" y1="237.5" x2="395.72" y2="239.3"/><line x1="400.11" y1="237.5" x2="400.11" y2="239.3"/><line x1="404.5" y1="237.5" x2="404.5" y2="240.5"/><line x1="408.89" y1="237.5" x2="408.89" y2="239.3"/><line x1="413.28" y1="237.5" x2="413.28" y2="239.3"/><line x1="417.67" y1="237.5" x2="417.67" y2="239.3"/><line x1="422.06" y1="237.5" x2="422.06" y2="239.3"/><line x1="426.45" y1="237.5" x2="426.45" y2="240.5"/><line x1="430.84" y1="237.5" x2="430.84" y2="239.3"/><line x1="435.23" y1="237.5" x2="435.23" y2="239.3"/><line x1="439.62" y1="237.5" x2="439.62" y2="239.3"/><line x1="444.01" y1="237.5" x2="444.01" y2="239.3"/><line x1="448.4" y1="237.5" x2="448.4" y2="240.5"/><line x1="452.79" y1="237.5" x2="452.79" y2="239.3"/><line x1="457.18" y1="237.5" x2="457.18" y2="239.3"/><line x1="461.57" y1="237.5" x2="461.57" y2="239.3"/><line x1="465.96" y1="237.5" x2="465.96" y2="239.3"/><line x1="470.35" y1="237.5" x2="470.35" y2="240.5"/><line x1="474.74" y1="237.5" x2="474.74" y2="239.3"/><line x1="479.13" y1="237.5" x2="479.13" y2="239.3"/><line x1="483.52" y1="237.5" x2="483.52" y2="239.3"/><line x1="487.91" y1="237.5" x2="487.91" y2="239.3"/><line x1="492.3" y1="237.5" x2="492.3" y2="240.5"/><line x1="53.3" y1="237.5" x2="50.3" y2="237.5"/><line x1="53.3" y1="221.72" x2="51.5" y2="221.72"/><line x1="53.3" y1="205.94" x2="50.3" y2="205.94"/><line x1="53.3" y1="190.16" x2="51.5" y2="190.16"/><line x1="53.3" y1="174.38" x2="50.3" y2="174.38"/><line x1="53.3" y1="158.6" x2="51.5" y2="158.6"/><line x1="53.3" y1="142.82" x2="50.3" y2="142.82"/><line x1="53.3" y1="127.04" x2="51.5" y2="127.04"/><line x1="53.3" y1="111.26" x2="50.3" y2="111.26"/><line x1="53.3" y1="95.48" x2="51.5" y2="95.48"/><line x1="53.3" y1="79.7" x2="50.3" y2="79.7"/><line x1="53.3" y1="63.92" x2="51.5" y2="63.92"/><line x1="53.3" y1="48.14" x2="50.3" y2="48.14"/><line x1="53.3" y1="32.36" x2="51.5" y2="32.36"/><line x1="53.3" y1="16.58" x2="50.3" y2="16.58"/></g><g font-family="Liberation Serif, serif" font-size="10.4" fill="#000" text-anchor="middle"><text x="53.3" y="252.2">0</text><text x="75.25" y="252.2">5</text><text x="97.2" y="252.2">10</text><text x="119.15" y="252.2">15</text><text x="141.1" y="252.2">20</text><text x="163.05" y="252.2">25</text><text x="185" y="252.2">30</text><text x="206.95" y="252.2">35</text><text x="228.9" y="252.2">40</text><text x="250.85" y="252.2">45</text><text x="272.8" y="252.2">50</text><text x="294.75" y="252.2">55</text><text x="316.7" y="252.2">60</text><text x="338.65" y="252.2">65</text><text x="360.6" y="252.2">70</text><text x="382.55" y="252.2">75</text><text x="404.5" y="252.2">80</text><text x="426.45" y="252.2">85</text><text x="448.4" y="252.2">90</text><text x="470.35" y="252.2">95</text><text x="492.3" y="252.2">100</text></g><g font-family="Liberation Serif, serif" font-size="10.4" fill="#000" text-anchor="end"><text x="47.6" y="241.1">0</text><text x="47.6" y="209.54">1</text><text x="47.6" y="177.98">2</text><text x="47.6" y="146.42">3</text><text x="47.6" y="114.86">4</text><text x="47.6" y="83.3">5</text><text x="47.6" y="51.74">6</text><text x="47.6" y="20.18">7</text></g><text font-family="Liberation Serif, serif" font-size="12.4" text-anchor="middle" x="273.2" y="262.2">Number of interferograms</text><text font-family="Liberation Serif, serif" font-size="12.4" text-anchor="middle" transform="translate(21.8,128.7) rotate(-90)">Mean of absolute values of estimated</text><text font-family="Liberation Serif, serif" font-size="12.4" text-anchor="middle" transform="translate(35,112.3) rotate(-90)">tropospheric delay (rad)</text><text font-family="Liberation Serif, serif" font-size="12.4" x="16.4" y="255.3">(a)</text><rect x="55.5" y="6.8" width="118.4" height="54.6" fill="#fff" stroke="#c0c0c0" stroke-width="1"/><text font-family="Liberation Serif, serif" font-size="10.7" x="57.8" y="18.6">Ascending</text><line x1="56.9" y1="27.5" x2="81.6" y2="27.5" stroke="#000000" stroke-width="1.1"/><g fill="#000000"><rect x="67.4" y="25.65" width="3.7" height="3.7"/></g><text font-family="Liberation Serif, serif" font-size="10.7" x="84.4" y="31.6">Average of Linear</text><line x1="56.9" y1="40.8" x2="81.6" y2="40.8" stroke="#FF0000" stroke-width="1.1"/><g fill="#FF0000"><circle cx="69.25" cy="40.8" r="2.25"/></g><text font-family="Liberation Serif, serif" font-size="10.7" x="84.4" y="44.9">Average of GACOS</text><line x1="56.9" y1="54.1" x2="81.6" y2="54.1" stroke="#00FFFF" stroke-width="1.1"/><g fill="#00FFFF"><path d="M69.25 51.8L71.7 56.05L66.8 56.05Z"/></g><text font-family="Liberation Serif, serif" font-size="10.7" x="84.4" y="58.2">Average of ERA5</text><rect x="349.5" y="7" width="133.8" height="93.8" fill="#fff" stroke="#c0c0c0" stroke-width="1"/><rect x="351.2" y="9.5" width="39.2" height="11" fill="#59AF87" stroke="#a0a0a0" stroke-width="0.6"/><text font-family="Liberation Serif, serif" font-size="9.85" x="396" y="18.3">Summer</text><rect x="351.2" y="22.7" width="39.2" height="11" fill="url(#LGA)" stroke="#a0a0a0" stroke-width="0.6"/><text font-family="Liberation Serif, serif" font-size="9.85" x="396" y="31.5">Summer and Autumn</text><rect x="351.2" y="35.9" width="39.2" height="11" fill="#FAB22A" stroke="#a0a0a0" stroke-width="0.6"/><text font-family="Liberation Serif, serif" font-size="9.85" x="396" y="44.7">Autumn</text><rect x="351.2" y="49.1" width="39.2" height="11" fill="url(#LAW)" stroke="#a0a0a0" stroke-width="0.6"/><text font-family="Liberation Serif, serif" font-size="9.85" x="396" y="57.9">Autumn and Winter</text><rect x="351.2" y="62.3" width="39.2" height="11" fill="#968DC8" stroke="#a0a0a0" stroke-width="0.6"/><text font-family="Liberation Serif, serif" font-size="9.85" x="396" y="71.1">Winter</text><rect x="351.2" y="75.5" width="39.2" height="11" fill="url(#LWS)" stroke="#a0a0a0" stroke-width="0.6"/><text font-family="Liberation Serif, serif" font-size="9.85" x="396" y="84.3">Winter and Spring</text><rect x="351.2" y="88.7" width="39.2" height="11" fill="#FB88BA" stroke="#a0a0a0" stroke-width="0.6"/><text font-family="Liberation Serif, serif" font-size="9.85" x="396" y="97.5">Spring</text><defs><linearGradient id="bGA" gradientUnits="userSpaceOnUse" x1="0" y1="286.5" x2="0" y2="512.4"><stop offset="0.000" stop-color="#fab22a"/><stop offset="0.050" stop-color="#f0b23c"/><stop offset="0.100" stop-color="#e5b149"/><stop offset="0.150" stop-color="#dab154"/><stop offset="0.200" stop-color="#cdb15e"/><stop offset="0.250" stop-color="#c0b166"/><stop offset="0.300" stop-color="#b1b06e"/><stop offset="0.350" stop-color="#a1b075"/><stop offset="0.400" stop-color="#8eb07b"/><stop offset="0.450" stop-color="#77af81"/><stop offset="0.500" stop-color="#59af87"/><stop offset="0.550" stop-color="#77af81"/><stop offset="0.600" stop-color="#8eb07b"/><stop offset="0.650" stop-color="#a1b075"/><stop offset="0.700" stop-color="#b1b06e"/><stop offset="0.750" stop-color="#c0b166"/><stop offset="0.800" stop-color="#cdb15e"/><stop offset="0.850" stop-color="#dab154"/><stop offset="0.900" stop-color="#e5b149"/><stop offset="0.950" stop-color="#f0b23c"/><stop offset="1.000" stop-color="#fab22a"/></linearGradient><linearGradient id="bAW" gradientUnits="userSpaceOnUse" x1="0" y1="286.5" x2="0" y2="512.4"><stop offset="0.000" stop-color="#968dc8"/><stop offset="0.050" stop-color="#a491bf"/><stop offset="0.100" stop-color="#b095b6"/><stop offset="0.150" stop-color="#bc99ac"/><stop offset="0.200" stop-color="#c69da1"/><stop offset="0.250" stop-color="#d0a195"/><stop offset="0.300" stop-color="#d9a488"/><stop offset="0.350" stop-color="#e2a878"/><stop offset="0.400" stop-color="#eaab66"/><stop offset="0.450" stop-color="#f2af4f"/><stop offset="0.500" stop-color="#fab22a"/><stop offset="0.550" stop-color="#f2af4f"/><stop offset="0.600" stop-color="#eaab66"/><stop offset="0.650" stop-color="#e2a878"/><stop offset="0.700" stop-color="#d9a488"/><stop offset="0.750" stop-color="#d0a195"/><stop offset="0.800" stop-color="#c69da1"/><stop offset="0.850" stop-color="#bc99ac"/><stop offset="0.900" stop-color="#b095b6"/><stop offset="0.950" stop-color="#a491bf"/><stop offset="1.000" stop-color="#968dc8"/></linearGradient><linearGradient id="bWS" gradientUnits="userSpaceOnUse" x1="0" y1="286.5" x2="0" y2="512.4"><stop offset="0.000" stop-color="#fb88ba"/><stop offset="0.050" stop-color="#e989bc"/><stop offset="0.100" stop-color="#dd89be"/><stop offset="0.150" stop-color="#d28ac0"/><stop offset="0.200" stop-color="#c88bc1"/><stop offset="0.250" stop-color="#bf8bc2"/><stop offset="0.300" stop-color="#b68bc4"/><stop offset="0.350" stop-color="#ae8cc5"/><stop offset="0.400" stop-color="#a68cc6"/><stop offset="0.450" stop-color="#9e8dc7"/><stop offset="0.500" stop-color="#968dc8"/><stop offset="0.550" stop-color="#9e8dc7"/><stop offset="0.600" stop-color="#a68cc6"/><stop offset="0.650" stop-color="#ae8cc5"/><stop offset="0.700" stop-color="#b68bc4"/><stop offset="0.750" stop-color="#bf8bc2"/><stop offset="0.800" stop-color="#c88bc1"/><stop offset="0.850" stop-color="#d28ac0"/><stop offset="0.900" stop-color="#dd89be"/><stop offset="0.950" stop-color="#e989bc"/><stop offset="1.000" stop-color="#fb88ba"/></linearGradient></defs><rect x="51.8" y="286.5" width="42.89" height="225.9" fill="#59AF87"/><rect x="94.69" y="286.5" width="4.52" height="225.9" fill="url(#bGA)"/><rect x="99.21" y="286.5" width="18.06" height="225.9" fill="#59AF87"/><rect x="117.27" y="286.5" width="9.03" height="225.9" fill="url(#bGA)"/><rect x="126.3" y="286.5" width="13.54" height="225.9" fill="#59AF87"/><rect x="139.84" y="286.5" width="13.55" height="225.9" fill="url(#bGA)"/><rect x="153.39" y="286.5" width="9.03" height="225.9" fill="#59AF87"/><rect x="162.42" y="286.5" width="9.03" height="225.9" fill="url(#bGA)"/><rect x="171.45" y="286.5" width="4.51" height="225.9" fill="#59AF87"/><rect x="175.96" y="286.5" width="22.57" height="225.9" fill="url(#bGA)"/><rect x="198.54" y="286.5" width="54.18" height="225.9" fill="#FAB22A"/><rect x="252.72" y="286.5" width="4.51" height="225.9" fill="url(#bAW)"/><rect x="257.23" y="286.5" width="13.55" height="225.9" fill="#FAB22A"/><rect x="270.78" y="286.5" width="13.55" height="225.9" fill="url(#bAW)"/><rect x="284.32" y="286.5" width="9.03" height="225.9" fill="#FAB22A"/><rect x="293.35" y="286.5" width="13.55" height="225.9" fill="url(#bAW)"/><rect x="306.9" y="286.5" width="4.51" height="225.9" fill="#FAB22A"/><rect x="311.41" y="286.5" width="49.67" height="225.9" fill="url(#bAW)"/><rect x="361.08" y="286.5" width="45.15" height="225.9" fill="#968DC8"/><rect x="406.23" y="286.5" width="4.52" height="225.9" fill="url(#bWS)"/><rect x="410.74" y="286.5" width="13.54" height="225.9" fill="#968DC8"/><rect x="424.29" y="286.5" width="9.03" height="225.9" fill="url(#bWS)"/><rect x="433.32" y="286.5" width="9.03" height="225.9" fill="#968DC8"/><rect x="442.35" y="286.5" width="13.55" height="225.9" fill="url(#bWS)"/><rect x="455.89" y="286.5" width="4.51" height="225.9" fill="#968DC8"/><rect x="460.41" y="286.5" width="22.57" height="225.9" fill="url(#bWS)"/><rect x="482.98" y="286.5" width="13.55" height="225.9" fill="#FB88BA"/><line x1="94.69" y1="286.5" x2="94.69" y2="512.4" stroke="#7f7f7f" stroke-opacity="0.55" stroke-width="0.7"/><line x1="94.69" y1="286.5" x2="94.69" y2="512.4" stroke="#7f7f7f" stroke-opacity="0.55" stroke-width="0.7"/><line x1="99.21" y1="286.5" x2="99.21" y2="512.4" stroke="#7f7f7f" stroke-opacity="0.55" stroke-width="0.7"/><line x1="99.21" y1="286.5" x2="99.21" y2="512.4" stroke="#7f7f7f" stroke-opacity="0.55" stroke-width="0.7"/><line x1="117.27" y1="286.5" x2="117.27" y2="512.4" stroke="#7f7f7f" stroke-opacity="0.55" stroke-width="0.7"/><line x1="117.27" y1="286.5" x2="117.27" y2="512.4" stroke="#7f7f7f" stroke-opacity="0.55" stroke-width="0.7"/><line x1="126.3" y1="286.5" x2="126.3" y2="512.4" stroke="#7f7f7f" stroke-opacity="0.55" stroke-width="0.7"/><line x1="126.3" y1="286.5" x2="126.3" y2="512.4" stroke="#7f7f7f" stroke-opacity="0.55" stroke-width="0.7"/><line x1="139.84" y1="286.5" x2="139.84" y2="512.4" stroke="#7f7f7f" stroke-opacity="0.55" stroke-width="0.7"/><line x1="139.84" y1="286.5" x2="139.84" y2="512.4" stroke="#7f7f7f" stroke-opacity="0.55" stroke-width="0.7"/><line x1="153.39" y1="286.5" x2="153.39" y2="512.4" stroke="#7f7f7f" stroke-opacity="0.55" stroke-width="0.7"/><line x1="153.39" y1="286.5" x2="153.39" y2="512.4" stroke="#7f7f7f" stroke-opacity="0.55" stroke-width="0.7"/><line x1="162.42" y1="286.5" x2="162.42" y2="512.4" stroke="#7f7f7f" stroke-opacity="0.55" stroke-width="0.7"/><line x1="162.42" y1="286.5" x2="162.42" y2="512.4" stroke="#7f7f7f" stroke-opacity="0.55" stroke-width="0.7"/><line x1="171.45" y1="286.5" x2="171.45" y2="512.4" stroke="#7f7f7f" stroke-opacity="0.55" stroke-width="0.7"/><line x1="171.45" y1="286.5" x2="171.45" y2="512.4" stroke="#7f7f7f" stroke-opacity="0.55" stroke-width="0.7"/><line x1="175.96" y1="286.5" x2="175.96" y2="512.4" stroke="#7f7f7f" stroke-opacity="0.55" stroke-width="0.7"/><line x1="175.96" y1="286.5" x2="175.96" y2="512.4" stroke="#7f7f7f" stroke-opacity="0.55" stroke-width="0.7"/><line x1="198.54" y1="286.5" x2="198.54" y2="512.4" stroke="#7f7f7f" stroke-opacity="0.55" stroke-width="0.7"/><line x1="198.54" y1="286.5" x2="198.54" y2="512.4" stroke="#7f7f7f" stroke-opacity="0.55" stroke-width="0.7"/><line x1="252.72" y1="286.5" x2="252.72" y2="512.4" stroke="#7f7f7f" stroke-opacity="0.55" stroke-width="0.7"/><line x1="252.72" y1="286.5" x2="252.72" y2="512.4" stroke="#7f7f7f" stroke-opacity="0.55" stroke-width="0.7"/><line x1="257.23" y1="286.5" x2="257.23" y2="512.4" stroke="#7f7f7f" stroke-opacity="0.55" stroke-width="0.7"/><line x1="257.23" y1="286.5" x2="257.23" y2="512.4" stroke="#7f7f7f" stroke-opacity="0.55" stroke-width="0.7"/><line x1="270.78" y1="286.5" x2="270.78" y2="512.4" stroke="#7f7f7f" stroke-opacity="0.55" stroke-width="0.7"/><line x1="270.78" y1="286.5" x2="270.78" y2="512.4" stroke="#7f7f7f" stroke-opacity="0.55" stroke-width="0.7"/><line x1="284.32" y1="286.5" x2="284.32" y2="512.4" stroke="#7f7f7f" stroke-opacity="0.55" stroke-width="0.7"/><line x1="284.32" y1="286.5" x2="284.32" y2="512.4" stroke="#7f7f7f" stroke-opacity="0.55" stroke-width="0.7"/><line x1="293.35" y1="286.5" x2="293.35" y2="512.4" stroke="#7f7f7f" stroke-opacity="0.55" stroke-width="0.7"/><line x1="293.35" y1="286.5" x2="293.35" y2="512.4" stroke="#7f7f7f" stroke-opacity="0.55" stroke-width="0.7"/><line x1="306.9" y1="286.5" x2="306.9" y2="512.4" stroke="#7f7f7f" stroke-opacity="0.55" stroke-width="0.7"/><line x1="306.9" y1="286.5" x2="306.9" y2="512.4" stroke="#7f7f7f" stroke-opacity="0.55" stroke-width="0.7"/><line x1="311.41" y1="286.5" x2="311.41" y2="512.4" stroke="#7f7f7f" stroke-opacity="0.55" stroke-width="0.7"/><line x1="311.41" y1="286.5" x2="311.41" y2="512.4" stroke="#7f7f7f" stroke-opacity="0.55" stroke-width="0.7"/><line x1="361.08" y1="286.5" x2="361.08" y2="512.4" stroke="#7f7f7f" stroke-opacity="0.55" stroke-width="0.7"/><line x1="361.08" y1="286.5" x2="361.08" y2="512.4" stroke="#7f7f7f" stroke-opacity="0.55" stroke-width="0.7"/><line x1="406.23" y1="286.5" x2="406.23" y2="512.4" stroke="#7f7f7f" stroke-opacity="0.55" stroke-width="0.7"/><line x1="406.23" y1="286.5" x2="406.23" y2="512.4" stroke="#7f7f7f" stroke-opacity="0.55" stroke-width="0.7"/><line x1="410.74" y1="286.5" x2="410.74" y2="512.4" stroke="#7f7f7f" stroke-opacity="0.55" stroke-width="0.7"/><line x1="410.74" y1="286.5" x2="410.74" y2="512.4" stroke="#7f7f7f" stroke-opacity="0.55" stroke-width="0.7"/><line x1="424.29" y1="286.5" x2="424.29" y2="512.4" stroke="#7f7f7f" stroke-opacity="0.55" stroke-width="0.7"/><line x1="424.29" y1="286.5" x2="424.29" y2="512.4" stroke="#7f7f7f" stroke-opacity="0.55" stroke-width="0.7"/><line x1="433.32" y1="286.5" x2="433.32" y2="512.4" stroke="#7f7f7f" stroke-opacity="0.55" stroke-width="0.7"/><line x1="433.32" y1="286.5" x2="433.32" y2="512.4" stroke="#7f7f7f" stroke-opacity="0.55" stroke-width="0.7"/><line x1="442.35" y1="286.5" x2="442.35" y2="512.4" stroke="#7f7f7f" stroke-opacity="0.55" stroke-width="0.7"/><line x1="442.35" y1="286.5" x2="442.35" y2="512.4" stroke="#7f7f7f" stroke-opacity="0.55" stroke-width="0.7"/><line x1="455.89" y1="286.5" x2="455.89" y2="512.4" stroke="#7f7f7f" stroke-opacity="0.55" stroke-width="0.7"/><line x1="455.89" y1="286.5" x2="455.89" y2="512.4" stroke="#7f7f7f" stroke-opacity="0.55" stroke-width="0.7"/><line x1="460.41" y1="286.5" x2="460.41" y2="512.4" stroke="#7f7f7f" stroke-opacity="0.55" stroke-width="0.7"/><line x1="460.41" y1="286.5" x2="460.41" y2="512.4" stroke="#7f7f7f" stroke-opacity="0.55" stroke-width="0.7"/><line x1="482.98" y1="286.5" x2="482.98" y2="512.4" stroke="#7f7f7f" stroke-opacity="0.55" stroke-width="0.7"/><line x1="482.98" y1="286.5" x2="482.98" y2="512.4" stroke="#7f7f7f" stroke-opacity="0.55" stroke-width="0.7"/><line x1="496.53" y1="286.5" x2="496.53" y2="512.4" stroke="#7f7f7f" stroke-opacity="0.55" stroke-width="0.7"/><polyline points="56.31,498.39 60.83,488.45 65.34,505.17 69.86,488.91 74.38,489.81 78.89,501.1 83.41,492.07 87.92,475.8 92.44,487.55 96.95,511.04 101.47,501.1 105.98,471.29 110.49,454.12 115.01,466.77 119.52,492.97 124.04,498.85 128.56,482.13 133.07,465.86 137.58,476.26 142.1,504.27 146.62,508.79 151.13,391.32 155.64,496.59 160.16,508.33 164.67,489.81 169.19,484.39 173.7,499.75 178.22,471.74 182.74,467.67 187.25,483.94 191.76,479.42 196.28,442.82 200.79,506.98 205.31,399.9 209.82,360.14 214.34,415.26 218.85,394.48 223.37,355.17 227.88,409.39 232.4,302.76 236.91,474.9 241.43,493.88 245.94,414.81 250.46,485.29 254.97,394.93 259.49,456.38 264,453.21 268.52,501.56 273.03,463.15 277.55,463.61 282.06,506.07 286.58,397.64 291.09,468.12 295.61,406.68 300.12,407.13 304.64,450.05 309.15,442.82 313.67,502.46 318.19,502.01 322.7,459.09 327.21,475.35 331.73,492.97 336.25,451.41 340.76,431.53 345.27,453.21 349.79,495.23 354.31,480.32 358.82,422.94 363.33,511.5 367.85,469.03 372.37,485.74 376.88,483.03 381.39,490.71 385.91,448.7 390.43,470.38 394.94,485.74 399.45,481.68 403.97,489.36 408.49,496.14 413,496.14 417.51,439.21 422.03,446.44 426.54,485.74 431.06,473.09 435.57,456.38 440.09,463.15 444.6,502.91 449.12,489.81 453.63,459.09 458.15,506.07 462.66,466.77 467.18,478.97 471.69,403.06 476.21,473.55 480.72,485.74 485.24,500.2 489.75,450.5 494.27,438.3" fill="none" stroke="#000000" stroke-width="1.15" stroke-linejoin="round"/><g fill="#000000"><rect x="54.32" y="496.4" width="4" height="4"/><rect x="58.83" y="486.46" width="4" height="4"/><rect x="63.35" y="503.17" width="4" height="4"/><rect x="67.86" y="486.91" width="4" height="4"/><rect x="72.38" y="487.81" width="4" height="4"/><rect x="76.89" y="499.11" width="4" height="4"/><rect x="81.41" y="490.07" width="4" height="4"/><rect x="85.92" y="473.81" width="4" height="4"/><rect x="90.44" y="485.55" width="4" height="4"/><rect x="94.95" y="509.05" width="4" height="4"/><rect x="99.47" y="499.11" width="4" height="4"/><rect x="103.98" y="469.29" width="4" height="4"/><rect x="108.5" y="452.12" width="4" height="4"/><rect x="113.01" y="464.77" width="4" height="4"/><rect x="117.53" y="490.97" width="4" height="4"/><rect x="122.04" y="496.85" width="4" height="4"/><rect x="126.56" y="480.13" width="4" height="4"/><rect x="131.07" y="463.87" width="4" height="4"/><rect x="135.59" y="474.26" width="4" height="4"/><rect x="140.1" y="502.27" width="4" height="4"/><rect x="144.62" y="506.79" width="4" height="4"/><rect x="149.13" y="389.32" width="4" height="4"/><rect x="153.65" y="494.59" width="4" height="4"/><rect x="158.16" y="506.34" width="4" height="4"/><rect x="162.68" y="487.81" width="4" height="4"/><rect x="167.19" y="482.39" width="4" height="4"/><rect x="171.71" y="497.75" width="4" height="4"/><rect x="176.22" y="469.74" width="4" height="4"/><rect x="180.74" y="465.67" width="4" height="4"/><rect x="185.25" y="481.94" width="4" height="4"/><rect x="189.77" y="477.42" width="4" height="4"/><rect x="194.28" y="440.82" width="4" height="4"/><rect x="198.8" y="504.98" width="4" height="4"/><rect x="203.31" y="397.9" width="4" height="4"/><rect x="207.83" y="358.15" width="4" height="4"/><rect x="212.34" y="413.26" width="4" height="4"/><rect x="216.86" y="392.48" width="4" height="4"/><rect x="221.37" y="353.18" width="4" height="4"/><rect x="225.89" y="407.39" width="4" height="4"/><rect x="230.4" y="300.77" width="4" height="4"/><rect x="234.92" y="472.9" width="4" height="4"/><rect x="239.43" y="491.88" width="4" height="4"/><rect x="243.95" y="412.81" width="4" height="4"/><rect x="248.46" y="483.29" width="4" height="4"/><rect x="252.98" y="392.93" width="4" height="4"/><rect x="257.49" y="454.38" width="4" height="4"/><rect x="262.01" y="451.22" width="4" height="4"/><rect x="266.52" y="499.56" width="4" height="4"/><rect x="271.04" y="461.16" width="4" height="4"/><rect x="275.55" y="461.61" width="4" height="4"/><rect x="280.07" y="504.08" width="4" height="4"/><rect x="284.58" y="395.64" width="4" height="4"/><rect x="289.1" y="466.13" width="4" height="4"/><rect x="293.61" y="404.68" width="4" height="4"/><rect x="298.13" y="405.13" width="4" height="4"/><rect x="302.64" y="448.05" width="4" height="4"/><rect x="307.16" y="440.82" width="4" height="4"/><rect x="311.67" y="500.46" width="4" height="4"/><rect x="316.19" y="500.01" width="4" height="4"/><rect x="320.7" y="457.09" width="4" height="4"/><rect x="325.22" y="473.35" width="4" height="4"/><rect x="329.73" y="490.97" width="4" height="4"/><rect x="334.25" y="449.41" width="4" height="4"/><rect x="338.76" y="429.53" width="4" height="4"/><rect x="343.28" y="451.22" width="4" height="4"/><rect x="347.79" y="493.23" width="4" height="4"/><rect x="352.31" y="478.32" width="4" height="4"/><rect x="356.82" y="420.95" width="4" height="4"/><rect x="361.34" y="509.5" width="4" height="4"/><rect x="365.85" y="467.03" width="4" height="4"/><rect x="370.37" y="483.75" width="4" height="4"/><rect x="374.88" y="481.03" width="4" height="4"/><rect x="379.4" y="488.72" width="4" height="4"/><rect x="383.91" y="446.7" width="4" height="4"/><rect x="388.43" y="468.38" width="4" height="4"/><rect x="392.94" y="483.75" width="4" height="4"/><rect x="397.46" y="479.68" width="4" height="4"/><rect x="401.97" y="487.36" width="4" height="4"/><rect x="406.49" y="494.14" width="4" height="4"/><rect x="411" y="494.14" width="4" height="4"/><rect x="415.52" y="437.21" width="4" height="4"/><rect x="420.03" y="444.44" width="4" height="4"/><rect x="424.55" y="483.75" width="4" height="4"/><rect x="429.06" y="471.1" width="4" height="4"/><rect x="433.58" y="454.38" width="4" height="4"/><rect x="438.09" y="461.16" width="4" height="4"/><rect x="442.61" y="500.91" width="4" height="4"/><rect x="447.12" y="487.81" width="4" height="4"/><rect x="451.64" y="457.09" width="4" height="4"/><rect x="456.15" y="504.08" width="4" height="4"/><rect x="460.67" y="464.77" width="4" height="4"/><rect x="465.18" y="476.97" width="4" height="4"/><rect x="469.7" y="401.07" width="4" height="4"/><rect x="474.21" y="471.55" width="4" height="4"/><rect x="478.73" y="483.75" width="4" height="4"/><rect x="483.24" y="498.2" width="4" height="4"/><rect x="487.76" y="448.51" width="4" height="4"/><rect x="492.27" y="436.31" width="4" height="4"/></g><polyline points="56.31,400.35 60.83,441.92 65.34,375.5 69.86,371.89 74.38,442.37 78.89,439.66 83.41,454.57 87.92,454.57 92.44,373.25 96.95,455.02 101.47,442.82 105.98,459.09 110.49,458.64 115.01,400.81 119.52,474.9 124.04,475.8 128.56,430.17 133.07,431.08 137.58,347.94 142.1,451.86 146.62,462.7 151.13,402.16 155.64,469.48 160.16,417.52 164.67,461.8 169.19,462.7 173.7,403.06 178.22,481.23 182.74,470.38 187.25,391.77 191.76,387.25 196.28,330.78 200.79,485.74 205.31,415.26 209.82,391.32 214.34,417.52 218.85,415.71 223.37,394.93 227.88,420.68 232.4,324.45 236.91,466.77 241.43,459.54 245.94,399 250.46,442.37 254.97,387.25 259.49,438.3 264,426.56 268.52,461.8 273.03,427.46 277.55,452.31 282.06,440.56 286.58,375.96 291.09,418.88 295.61,376.41 300.12,422.04 304.64,386.8 309.15,463.61 313.67,494.78 318.19,449.6 322.7,486.65 327.21,455.47 331.73,454.57 336.25,467.22 340.76,448.7 345.27,474 349.79,471.74 354.31,461.35 358.82,431.08 363.33,449.15 367.85,485.74 372.37,448.7 376.88,460.89 381.39,436.5 385.91,466.32 390.43,460.44 394.94,459.99 399.45,416.62 403.97,451.41 408.49,464.96 413,460.89 417.51,452.31 422.03,486.65 426.54,474 431.06,482.13 435.57,402.16 440.09,441.47 444.6,442.37 449.12,448.7 453.63,431.53 458.15,444.63 462.66,441.47 467.18,446.89 471.69,427.91 476.21,471.74 480.72,479.87 485.24,482.13 489.75,483.48 494.27,478.06" fill="none" stroke="#FF0000" stroke-width="1.15" stroke-linejoin="round"/><g fill="#FF0000"><circle cx="56.31" cy="400.35" r="2.43"/><circle cx="60.83" cy="441.92" r="2.43"/><circle cx="65.34" cy="375.5" r="2.43"/><circle cx="69.86" cy="371.89" r="2.43"/><circle cx="74.38" cy="442.37" r="2.43"/><circle cx="78.89" cy="439.66" r="2.43"/><circle cx="83.41" cy="454.57" r="2.43"/><circle cx="87.92" cy="454.57" r="2.43"/><circle cx="92.44" cy="373.25" r="2.43"/><circle cx="96.95" cy="455.02" r="2.43"/><circle cx="101.47" cy="442.82" r="2.43"/><circle cx="105.98" cy="459.09" r="2.43"/><circle cx="110.49" cy="458.64" r="2.43"/><circle cx="115.01" cy="400.81" r="2.43"/><circle cx="119.52" cy="474.9" r="2.43"/><circle cx="124.04" cy="475.8" r="2.43"/><circle cx="128.56" cy="430.17" r="2.43"/><circle cx="133.07" cy="431.08" r="2.43"/><circle cx="137.58" cy="347.94" r="2.43"/><circle cx="142.1" cy="451.86" r="2.43"/><circle cx="146.62" cy="462.7" r="2.43"/><circle cx="151.13" cy="402.16" r="2.43"/><circle cx="155.64" cy="469.48" r="2.43"/><circle cx="160.16" cy="417.52" r="2.43"/><circle cx="164.67" cy="461.8" r="2.43"/><circle cx="169.19" cy="462.7" r="2.43"/><circle cx="173.7" cy="403.06" r="2.43"/><circle cx="178.22" cy="481.23" r="2.43"/><circle cx="182.74" cy="470.38" r="2.43"/><circle cx="187.25" cy="391.77" r="2.43"/><circle cx="191.76" cy="387.25" r="2.43"/><circle cx="196.28" cy="330.78" r="2.43"/><circle cx="200.79" cy="485.74" r="2.43"/><circle cx="205.31" cy="415.26" r="2.43"/><circle cx="209.82" cy="391.32" r="2.43"/><circle cx="214.34" cy="417.52" r="2.43"/><circle cx="218.85" cy="415.71" r="2.43"/><circle cx="223.37" cy="394.93" r="2.43"/><circle cx="227.88" cy="420.68" r="2.43"/><circle cx="232.4" cy="324.45" r="2.43"/><circle cx="236.91" cy="466.77" r="2.43"/><circle cx="241.43" cy="459.54" r="2.43"/><circle cx="245.94" cy="399" r="2.43"/><circle cx="250.46" cy="442.37" r="2.43"/><circle cx="254.97" cy="387.25" r="2.43"/><circle cx="259.49" cy="438.3" r="2.43"/><circle cx="264" cy="426.56" r="2.43"/><circle cx="268.52" cy="461.8" r="2.43"/><circle cx="273.03" cy="427.46" r="2.43"/><circle cx="277.55" cy="452.31" r="2.43"/><circle cx="282.06" cy="440.56" r="2.43"/><circle cx="286.58" cy="375.96" r="2.43"/><circle cx="291.09" cy="418.88" r="2.43"/><circle cx="295.61" cy="376.41" r="2.43"/><circle cx="300.12" cy="422.04" r="2.43"/><circle cx="304.64" cy="386.8" r="2.43"/><circle cx="309.15" cy="463.61" r="2.43"/><circle cx="313.67" cy="494.78" r="2.43"/><circle cx="318.19" cy="449.6" r="2.43"/><circle cx="322.7" cy="486.65" r="2.43"/><circle cx="327.21" cy="455.47" r="2.43"/><circle cx="331.73" cy="454.57" r="2.43"/><circle cx="336.25" cy="467.22" r="2.43"/><circle cx="340.76" cy="448.7" r="2.43"/><circle cx="345.27" cy="474" r="2.43"/><circle cx="349.79" cy="471.74" r="2.43"/><circle cx="354.31" cy="461.35" r="2.43"/><circle cx="358.82" cy="431.08" r="2.43"/><circle cx="363.33" cy="449.15" r="2.43"/><circle cx="367.85" cy="485.74" r="2.43"/><circle cx="372.37" cy="448.7" r="2.43"/><circle cx="376.88" cy="460.89" r="2.43"/><circle cx="381.39" cy="436.5" r="2.43"/><circle cx="385.91" cy="466.32" r="2.43"/><circle cx="390.43" cy="460.44" r="2.43"/><circle cx="394.94" cy="459.99" r="2.43"/><circle cx="399.45" cy="416.62" r="2.43"/><circle cx="403.97" cy="451.41" r="2.43"/><circle cx="408.49" cy="464.96" r="2.43"/><circle cx="413" cy="460.89" r="2.43"/><circle cx="417.51" cy="452.31" r="2.43"/><circle cx="422.03" cy="486.65" r="2.43"/><circle cx="426.54" cy="474" r="2.43"/><circle cx="431.06" cy="482.13" r="2.43"/><circle cx="435.57" cy="402.16" r="2.43"/><circle cx="440.09" cy="441.47" r="2.43"/><circle cx="444.6" cy="442.37" r="2.43"/><circle cx="449.12" cy="448.7" r="2.43"/><circle cx="453.63" cy="431.53" r="2.43"/><circle cx="458.15" cy="444.63" r="2.43"/><circle cx="462.66" cy="441.47" r="2.43"/><circle cx="467.18" cy="446.89" r="2.43"/><circle cx="471.69" cy="427.91" r="2.43"/><circle cx="476.21" cy="471.74" r="2.43"/><circle cx="480.72" cy="479.87" r="2.43"/><circle cx="485.24" cy="482.13" r="2.43"/><circle cx="489.75" cy="483.48" r="2.43"/><circle cx="494.27" cy="478.06" r="2.43"/></g><polyline points="56.31,441.47 60.83,401.26 65.34,430.62 69.86,429.27 74.38,465.86 78.89,453.67 83.41,472.19 87.92,463.15 92.44,466.77 96.95,478.97 101.47,455.02 105.98,472.64 110.49,438.76 115.01,471.29 119.52,471.29 124.04,466.77 128.56,471.74 133.07,443.73 137.58,481.68 142.1,473.09 146.62,463.61 151.13,394.48 155.64,450.05 160.16,481.23 164.67,479.42 169.19,463.61 173.7,450.5 178.22,466.32 182.74,470.38 187.25,479.87 191.76,467.22 196.28,399.9 200.79,485.74 205.31,412.1 209.82,408.49 214.34,408.49 218.85,406.23 223.37,407.58 227.88,403.97 232.4,350.66 236.91,463.15 241.43,476.71 245.94,396.74 250.46,427.91 254.97,393.58 259.49,475.35 264,441.47 268.52,465.41 273.03,418.88 277.55,447.79 282.06,426.11 286.58,420.23 291.09,449.15 295.61,399 300.12,432.43 304.64,406.68 309.15,472.19 313.67,467.22 318.19,471.29 322.7,477.16 327.21,468.58 331.73,429.72 336.25,441.02 340.76,460.89 345.27,476.71 349.79,453.21 354.31,448.7 358.82,404.42 363.33,450.5 367.85,489.36 372.37,428.82 376.88,471.29 381.39,473.55 385.91,474.9 390.43,466.32 394.94,456.83 399.45,419.78 403.97,455.92 408.49,487.55 413,441.02 417.51,459.99 422.03,488.45 426.54,469.03 431.06,475.35 435.57,396.74 440.09,424.75 444.6,455.02 449.12,455.02 453.63,421.14 458.15,469.93 462.66,432.43 467.18,431.98 471.69,416.62 476.21,462.7 480.72,465.86 485.24,491.62 489.75,465.86 494.27,464.06" fill="none" stroke="#00FFFF" stroke-width="1.15" stroke-linejoin="round"/><g fill="#00FFFF"><path d="M56.31 438.98L58.96 443.58L53.67 443.58Z"/><path d="M60.83 398.77L63.48 403.37L58.18 403.37Z"/><path d="M65.34 428.14L67.99 432.74L62.7 432.74Z"/><path d="M69.86 426.78L72.51 431.38L67.21 431.38Z"/><path d="M74.38 463.38L77.02 467.98L71.73 467.98Z"/><path d="M78.89 451.18L81.54 455.78L76.24 455.78Z"/><path d="M83.41 469.71L86.05 474.3L80.76 474.3Z"/><path d="M87.92 460.67L90.57 465.27L85.27 465.27Z"/><path d="M92.44 464.28L95.08 468.88L89.79 468.88Z"/><path d="M96.95 476.48L99.6 481.08L94.3 481.08Z"/><path d="M101.47 452.54L104.11 457.13L98.82 457.13Z"/><path d="M105.98 470.16L108.63 474.75L103.33 474.75Z"/><path d="M110.49 436.27L113.14 440.87L107.85 440.87Z"/><path d="M115.01 468.8L117.66 473.4L112.36 473.4Z"/><path d="M119.52 468.8L122.17 473.4L116.88 473.4Z"/><path d="M124.04 464.28L126.69 468.88L121.39 468.88Z"/><path d="M128.56 469.25L131.2 473.85L125.91 473.85Z"/><path d="M133.07 441.24L135.72 445.84L130.42 445.84Z"/><path d="M137.58 479.19L140.23 483.79L134.94 483.79Z"/><path d="M142.1 470.61L144.75 475.2L139.45 475.2Z"/><path d="M146.62 461.12L149.26 465.72L143.97 465.72Z"/><path d="M151.13 392L153.78 396.59L148.48 396.59Z"/><path d="M155.64 447.57L158.29 452.16L153 452.16Z"/><path d="M160.16 478.74L162.81 483.34L157.51 483.34Z"/><path d="M164.67 476.93L167.32 481.53L162.03 481.53Z"/><path d="M169.19 461.12L171.84 465.72L166.54 465.72Z"/><path d="M173.7 448.02L176.35 452.61L171.06 452.61Z"/><path d="M178.22 463.83L180.87 468.43L175.57 468.43Z"/><path d="M182.74 467.9L185.38 472.49L180.09 472.49Z"/><path d="M187.25 477.39L189.9 481.98L184.6 481.98Z"/><path d="M191.76 464.74L194.41 469.33L189.12 469.33Z"/><path d="M196.28 397.42L198.93 402.01L193.63 402.01Z"/><path d="M200.79 483.26L203.44 487.86L198.15 487.86Z"/><path d="M205.31 409.62L207.96 414.21L202.66 414.21Z"/><path d="M209.82 406L212.47 410.6L207.18 410.6Z"/><path d="M214.34 406L216.99 410.6L211.69 410.6Z"/><path d="M218.85 403.74L221.5 408.34L216.21 408.34Z"/><path d="M223.37 405.1L226.02 409.69L220.72 409.69Z"/><path d="M227.88 401.48L230.53 406.08L225.24 406.08Z"/><path d="M232.4 348.17L235.05 352.77L229.75 352.77Z"/><path d="M236.91 460.67L239.56 465.27L234.27 465.27Z"/><path d="M241.43 474.22L244.08 478.82L238.78 478.82Z"/><path d="M245.94 394.26L248.59 398.85L243.3 398.85Z"/><path d="M250.46 425.43L253.11 430.02L247.81 430.02Z"/><path d="M254.97 391.09L257.62 395.69L252.33 395.69Z"/><path d="M259.49 472.87L262.14 477.46L256.84 477.46Z"/><path d="M264 438.98L266.65 443.58L261.36 443.58Z"/><path d="M268.52 462.93L271.17 467.52L265.87 467.52Z"/><path d="M273.03 416.39L275.68 420.99L270.39 420.99Z"/><path d="M277.55 445.31L280.2 449.9L274.9 449.9Z"/><path d="M282.06 423.62L284.71 428.22L279.42 428.22Z"/><path d="M286.58 417.75L289.23 422.34L283.93 422.34Z"/><path d="M291.09 446.66L293.74 451.26L288.45 451.26Z"/><path d="M295.61 396.51L298.26 401.11L292.96 401.11Z"/><path d="M300.12 429.95L302.77 434.54L297.48 434.54Z"/><path d="M304.64 404.19L307.29 408.79L301.99 408.79Z"/><path d="M309.15 469.71L311.8 474.3L306.51 474.3Z"/><path d="M313.67 464.74L316.32 469.33L311.02 469.33Z"/><path d="M318.19 468.8L320.83 473.4L315.54 473.4Z"/><path d="M322.7 474.68L325.35 479.27L320.05 479.27Z"/><path d="M327.21 466.09L329.86 470.69L324.57 470.69Z"/><path d="M331.73 427.24L334.38 431.83L329.08 431.83Z"/><path d="M336.25 438.53L338.89 443.13L333.6 443.13Z"/><path d="M340.76 458.41L343.41 463.01L338.11 463.01Z"/><path d="M345.27 474.22L347.92 478.82L342.63 478.82Z"/><path d="M349.79 450.73L352.44 455.33L347.14 455.33Z"/><path d="M354.31 446.21L356.95 450.81L351.66 450.81Z"/><path d="M358.82 401.94L361.47 406.53L356.17 406.53Z"/><path d="M363.33 448.02L365.98 452.61L360.69 452.61Z"/><path d="M367.85 486.87L370.5 491.47L365.2 491.47Z"/><path d="M372.37 426.33L375.01 430.93L369.72 430.93Z"/><path d="M376.88 468.8L379.53 473.4L374.23 473.4Z"/><path d="M381.39 471.06L384.04 475.66L378.75 475.66Z"/><path d="M385.91 472.42L388.56 477.01L383.26 477.01Z"/><path d="M390.43 463.83L393.07 468.43L387.78 468.43Z"/><path d="M394.94 454.34L397.59 458.94L392.29 458.94Z"/><path d="M399.45 417.3L402.1 421.89L396.81 421.89Z"/><path d="M403.97 453.44L406.62 458.04L401.32 458.04Z"/><path d="M408.49 485.07L411.13 489.66L405.84 489.66Z"/><path d="M413 438.53L415.65 443.13L410.35 443.13Z"/><path d="M417.51 457.51L420.16 462.1L414.87 462.1Z"/><path d="M422.03 485.97L424.68 490.57L419.38 490.57Z"/><path d="M426.54 466.54L429.19 471.14L423.9 471.14Z"/><path d="M431.06 472.87L433.71 477.46L428.41 477.46Z"/><path d="M435.57 394.26L438.22 398.85L432.93 398.85Z"/><path d="M440.09 422.27L442.74 426.86L437.44 426.86Z"/><path d="M444.6 452.54L447.25 457.13L441.96 457.13Z"/><path d="M449.12 452.54L451.77 457.13L446.47 457.13Z"/><path d="M453.63 418.65L456.28 423.25L450.99 423.25Z"/><path d="M458.15 467.45L460.8 472.04L455.5 472.04Z"/><path d="M462.66 429.95L465.31 434.54L460.02 434.54Z"/><path d="M467.18 429.5L469.83 434.09L464.53 434.09Z"/><path d="M471.69 414.13L474.34 418.73L469.05 418.73Z"/><path d="M476.21 460.22L478.86 464.81L473.56 464.81Z"/><path d="M480.72 463.38L483.37 467.98L478.08 467.98Z"/><path d="M485.24 489.13L487.89 493.73L482.59 493.73Z"/><path d="M489.75 463.38L492.4 467.98L487.11 467.98Z"/><path d="M494.27 461.57L496.92 466.17L491.62 466.17Z"/></g><g stroke="#000" stroke-width="1" fill="none"><line x1="51.8" y1="286.5" x2="51.8" y2="512.9"/><line x1="51.3" y1="512.4" x2="498.78" y2="512.4"/><line x1="51.8" y1="512.4" x2="51.8" y2="515.4"/><line x1="56.31" y1="512.4" x2="56.31" y2="514.2"/><line x1="60.83" y1="512.4" x2="60.83" y2="514.2"/><line x1="65.34" y1="512.4" x2="65.34" y2="514.2"/><line x1="69.86" y1="512.4" x2="69.86" y2="514.2"/><line x1="74.38" y1="512.4" x2="74.38" y2="515.4"/><line x1="78.89" y1="512.4" x2="78.89" y2="514.2"/><line x1="83.41" y1="512.4" x2="83.41" y2="514.2"/><line x1="87.92" y1="512.4" x2="87.92" y2="514.2"/><line x1="92.44" y1="512.4" x2="92.44" y2="514.2"/><line x1="96.95" y1="512.4" x2="96.95" y2="515.4"/><line x1="101.47" y1="512.4" x2="101.47" y2="514.2"/><line x1="105.98" y1="512.4" x2="105.98" y2="514.2"/><line x1="110.49" y1="512.4" x2="110.49" y2="514.2"/><line x1="115.01" y1="512.4" x2="115.01" y2="514.2"/><line x1="119.52" y1="512.4" x2="119.52" y2="515.4"/><line x1="124.04" y1="512.4" x2="124.04" y2="514.2"/><line x1="128.56" y1="512.4" x2="128.56" y2="514.2"/><line x1="133.07" y1="512.4" x2="133.07" y2="514.2"/><line x1="137.58" y1="512.4" x2="137.58" y2="514.2"/><line x1="142.1" y1="512.4" x2="142.1" y2="515.4"/><line x1="146.62" y1="512.4" x2="146.62" y2="514.2"/><line x1="151.13" y1="512.4" x2="151.13" y2="514.2"/><line x1="155.64" y1="512.4" x2="155.64" y2="514.2"/><line x1="160.16" y1="512.4" x2="160.16" y2="514.2"/><line x1="164.67" y1="512.4" x2="164.67" y2="515.4"/><line x1="169.19" y1="512.4" x2="169.19" y2="514.2"/><line x1="173.7" y1="512.4" x2="173.7" y2="514.2"/><line x1="178.22" y1="512.4" x2="178.22" y2="514.2"/><line x1="182.74" y1="512.4" x2="182.74" y2="514.2"/><line x1="187.25" y1="512.4" x2="187.25" y2="515.4"/><line x1="191.76" y1="512.4" x2="191.76" y2="514.2"/><line x1="196.28" y1="512.4" x2="196.28" y2="514.2"/><line x1="200.79" y1="512.4" x2="200.79" y2="514.2"/><line x1="205.31" y1="512.4" x2="205.31" y2="514.2"/><line x1="209.82" y1="512.4" x2="209.82" y2="515.4"/><line x1="214.34" y1="512.4" x2="214.34" y2="514.2"/><line x1="218.85" y1="512.4" x2="218.85" y2="514.2"/><line x1="223.37" y1="512.4" x2="223.37" y2="514.2"/><line x1="227.88" y1="512.4" x2="227.88" y2="514.2"/><line x1="232.4" y1="512.4" x2="232.4" y2="515.4"/><line x1="236.91" y1="512.4" x2="236.91" y2="514.2"/><line x1="241.43" y1="512.4" x2="241.43" y2="514.2"/><line x1="245.94" y1="512.4" x2="245.94" y2="514.2"/><line x1="250.46" y1="512.4" x2="250.46" y2="514.2"/><line x1="254.97" y1="512.4" x2="254.97" y2="515.4"/><line x1="259.49" y1="512.4" x2="259.49" y2="514.2"/><line x1="264" y1="512.4" x2="264" y2="514.2"/><line x1="268.52" y1="512.4" x2="268.52" y2="514.2"/><line x1="273.03" y1="512.4" x2="273.03" y2="514.2"/><line x1="277.55" y1="512.4" x2="277.55" y2="515.4"/><line x1="282.06" y1="512.4" x2="282.06" y2="514.2"/><line x1="286.58" y1="512.4" x2="286.58" y2="514.2"/><line x1="291.09" y1="512.4" x2="291.09" y2="514.2"/><line x1="295.61" y1="512.4" x2="295.61" y2="514.2"/><line x1="300.12" y1="512.4" x2="300.12" y2="515.4"/><line x1="304.64" y1="512.4" x2="304.64" y2="514.2"/><line x1="309.15" y1="512.4" x2="309.15" y2="514.2"/><line x1="313.67" y1="512.4" x2="313.67" y2="514.2"/><line x1="318.19" y1="512.4" x2="318.19" y2="514.2"/><line x1="322.7" y1="512.4" x2="322.7" y2="515.4"/><line x1="327.21" y1="512.4" x2="327.21" y2="514.2"/><line x1="331.73" y1="512.4" x2="331.73" y2="514.2"/><line x1="336.25" y1="512.4" x2="336.25" y2="514.2"/><line x1="340.76" y1="512.4" x2="340.76" y2="514.2"/><line x1="345.27" y1="512.4" x2="345.27" y2="515.4"/><line x1="349.79" y1="512.4" x2="349.79" y2="514.2"/><line x1="354.31" y1="512.4" x2="354.31" y2="514.2"/><line x1="358.82" y1="512.4" x2="358.82" y2="514.2"/><line x1="363.33" y1="512.4" x2="363.33" y2="514.2"/><line x1="367.85" y1="512.4" x2="367.85" y2="515.4"/><line x1="372.37" y1="512.4" x2="372.37" y2="514.2"/><line x1="376.88" y1="512.4" x2="376.88" y2="514.2"/><line x1="381.39" y1="512.4" x2="381.39" y2="514.2"/><line x1="385.91" y1="512.4" x2="385.91" y2="514.2"/><line x1="390.43" y1="512.4" x2="390.43" y2="515.4"/><line x1="394.94" y1="512.4" x2="394.94" y2="514.2"/><line x1="399.45" y1="512.4" x2="399.45" y2="514.2"/><line x1="403.97" y1="512.4" x2="403.97" y2="514.2"/><line x1="408.49" y1="512.4" x2="408.49" y2="514.2"/><line x1="413" y1="512.4" x2="413" y2="515.4"/><line x1="417.51" y1="512.4" x2="417.51" y2="514.2"/><line x1="422.03" y1="512.4" x2="422.03" y2="514.2"/><line x1="426.54" y1="512.4" x2="426.54" y2="514.2"/><line x1="431.06" y1="512.4" x2="431.06" y2="514.2"/><line x1="435.57" y1="512.4" x2="435.57" y2="515.4"/><line x1="440.09" y1="512.4" x2="440.09" y2="514.2"/><line x1="444.6" y1="512.4" x2="444.6" y2="514.2"/><line x1="449.12" y1="512.4" x2="449.12" y2="514.2"/><line x1="453.63" y1="512.4" x2="453.63" y2="514.2"/><line x1="458.15" y1="512.4" x2="458.15" y2="515.4"/><line x1="462.66" y1="512.4" x2="462.66" y2="514.2"/><line x1="467.18" y1="512.4" x2="467.18" y2="514.2"/><line x1="471.69" y1="512.4" x2="471.69" y2="514.2"/><line x1="476.21" y1="512.4" x2="476.21" y2="514.2"/><line x1="480.72" y1="512.4" x2="480.72" y2="515.4"/><line x1="485.24" y1="512.4" x2="485.24" y2="514.2"/><line x1="489.75" y1="512.4" x2="489.75" y2="514.2"/><line x1="494.27" y1="512.4" x2="494.27" y2="514.2"/><line x1="498.78" y1="512.4" x2="498.78" y2="514.2"/><line x1="51.8" y1="512.4" x2="48.8" y2="512.4"/><line x1="51.8" y1="489.81" x2="50" y2="489.81"/><line x1="51.8" y1="467.22" x2="48.8" y2="467.22"/><line x1="51.8" y1="444.63" x2="50" y2="444.63"/><line x1="51.8" y1="422.04" x2="48.8" y2="422.04"/><line x1="51.8" y1="399.45" x2="50" y2="399.45"/><line x1="51.8" y1="376.86" x2="48.8" y2="376.86"/><line x1="51.8" y1="354.27" x2="50" y2="354.27"/><line x1="51.8" y1="331.68" x2="48.8" y2="331.68"/><line x1="51.8" y1="309.09" x2="50" y2="309.09"/><line x1="51.8" y1="286.5" x2="48.8" y2="286.5"/></g><g font-family="Liberation Serif, serif" font-size="11.3" fill="#000" text-anchor="middle"><text x="51.8" y="528.9">0</text><text x="74.38" y="528.9">5</text><text x="96.95" y="528.9">10</text><text x="119.52" y="528.9">15</text><text x="142.1" y="528.9">20</text><text x="164.67" y="528.9">25</text><text x="187.25" y="528.9">30</text><text x="209.82" y="528.9">35</text><text x="232.4" y="528.9">40</text><text x="254.97" y="528.9">45</text><text x="277.55" y="528.9">50</text><text x="300.12" y="528.9">55</text><text x="322.7" y="528.9">60</text><text x="345.27" y="528.9">65</text><text x="367.85" y="528.9">70</text><text x="390.43" y="528.9">75</text><text x="413" y="528.9">80</text><text x="435.57" y="528.9">85</text><text x="458.15" y="528.9">90</text><text x="480.72" y="528.9">95</text></g><g font-family="Liberation Serif, serif" font-size="11.3" fill="#000" text-anchor="end"><text x="45.2" y="516.3">0</text><text x="45.2" y="471.12">1</text><text x="45.2" y="425.94">2</text><text x="45.2" y="380.76">3</text><text x="45.2" y="335.58">4</text><text x="45.2" y="290.4">5</text></g><text font-family="Liberation Serif, serif" font-size="13.7" text-anchor="middle" x="275.7" y="540.8">Number of interferograms</text><text font-family="Liberation Serif, serif" font-size="13.7" text-anchor="middle" transform="translate(16,401.5) rotate(-90)">Mean of absolute values of estimated</text><text font-family="Liberation Serif, serif" font-size="13.7" text-anchor="middle" transform="translate(32.7,382.3) rotate(-90)">tropospheric delay (rad)</text><text font-family="Liberation Serif, serif" font-size="13.7" x="19.7" y="529.3">(b)</text><rect x="53.1" y="281.3" width="131" height="59.2" fill="#fff" stroke="#a0a0a0" stroke-width="1"/><text font-family="Liberation Serif, serif" font-size="11.75" x="55.6" y="293.3">Descending</text><line x1="55" y1="303.7" x2="81.7" y2="303.7" stroke="#000000" stroke-width="1.15"/><g fill="#000000"><rect x="66.35" y="301.7" width="4" height="4"/></g><text font-family="Liberation Serif, serif" font-size="11.75" x="84.9" y="307">Average of Linear</text><line x1="55" y1="318.15" x2="81.7" y2="318.15" stroke="#FF0000" stroke-width="1.15"/><g fill="#FF0000"><circle cx="68.35" cy="318.15" r="2.43"/></g><text font-family="Liberation Serif, serif" font-size="11.75" x="84.9" y="321.45">Average of GACOS</text><line x1="55" y1="332.6" x2="81.7" y2="332.6" stroke="#00FFFF" stroke-width="1.15"/><g fill="#00FFFF"><path d="M68.35 330.12L71 334.71L65.7 334.71Z"/></g><text font-family="Liberation Serif, serif" font-size="11.75" x="84.9" y="335.9">Average of ERA5</text><rect x="355" y="283.2" width="138.8" height="91.9" fill="#fff" stroke="#a0a0a0" stroke-width="1"/><rect x="356.6" y="284.3" width="38.7" height="10.9" fill="#59AF87" stroke="#a0a0a0" stroke-width="0.6"/><text font-family="Liberation Serif, serif" font-size="10.75" x="401" y="293.5">Summer</text><rect x="356.6" y="297.43" width="38.7" height="10.9" fill="url(#LGA)" stroke="#a0a0a0" stroke-width="0.6"/><text font-family="Liberation Serif, serif" font-size="10.75" x="401" y="306.63">Summer and Autumn</text><rect x="356.6" y="310.56" width="38.7" height="10.9" fill="#FAB22A" stroke="#a0a0a0" stroke-width="0.6"/><text font-family="Liberation Serif, serif" font-size="10.75" x="401" y="319.76">Autumn</text><rect x="356.6" y="323.69" width="38.7" height="10.9" fill="url(#LAW)" stroke="#a0a0a0" stroke-width="0.6"/><text font-family="Liberation Serif, serif" font-size="10.75" x="401" y="332.89">Autumn and Winter</text><rect x="356.6" y="336.82" width="38.7" height="10.9" fill="#968DC8" stroke="#a0a0a0" stroke-width="0.6"/><text font-family="Liberation Serif, serif" font-size="10.75" x="401" y="346.02">Winter</text><rect x="356.6" y="349.95" width="38.7" height="10.9" fill="url(#LWS)" stroke="#a0a0a0" stroke-width="0.6"/><text font-family="Liberation Serif, serif" font-size="10.75" x="401" y="359.15">Winter and Spring</text><rect x="356.6" y="363.08" width="38.7" height="10.9" fill="#FB88BA" stroke="#a0a0a0" stroke-width="0.6"/><text font-family="Liberation Serif, serif" font-size="10.75" x="401" y="372.28">Spring</text>
</svg>
</body></html>
